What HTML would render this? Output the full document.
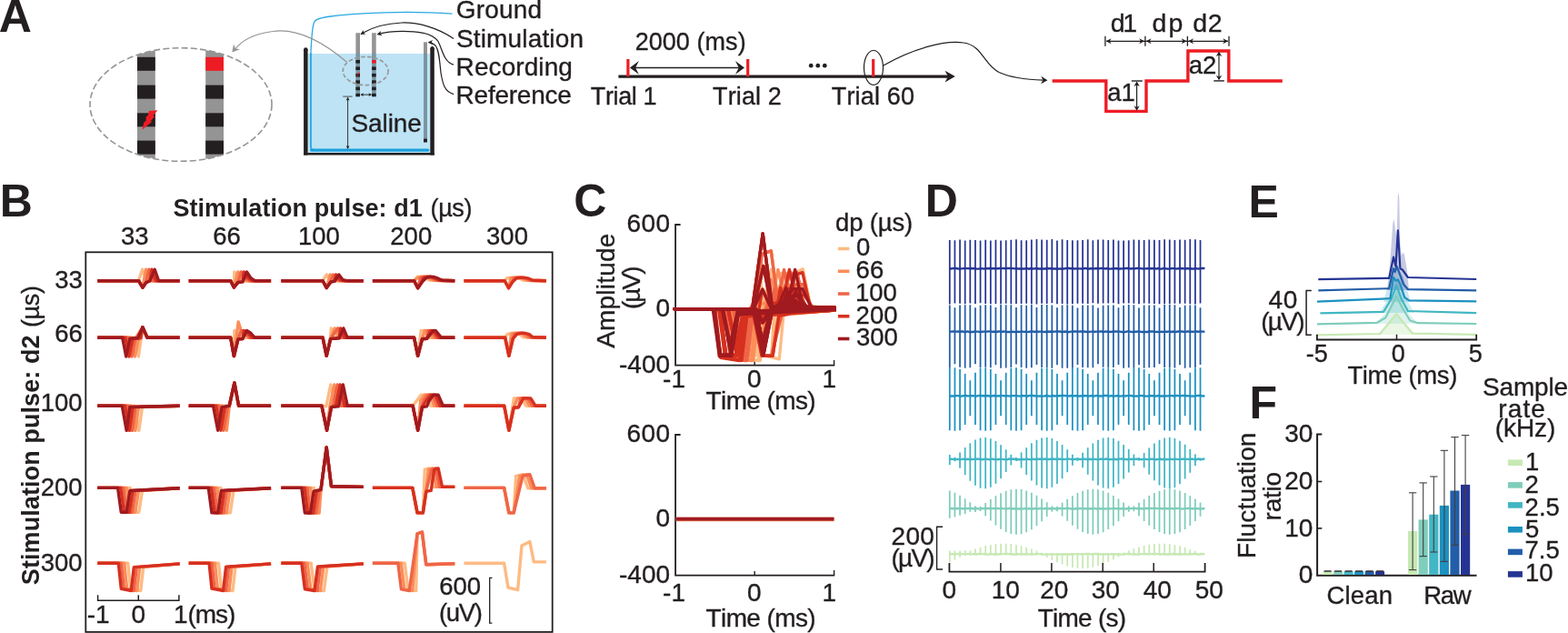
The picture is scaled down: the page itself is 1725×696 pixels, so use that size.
<!DOCTYPE html>
<html><head><meta charset="utf-8"><title>Figure</title>
<style>
html,body{margin:0;padding:0;background:#fff;}
svg{display:block;}
text{font-family:"Liberation Sans",Arial,Helvetica,sans-serif;font-kerning:none;}
</style></head>
<body>
<svg width="1725" height="696" viewBox="0 0 1725 696">
<rect x="0" y="0" width="1725" height="696" fill="#fff"/>
<text x="-1.25" y="34.50" font-size="50.00" font-weight="bold" fill="#231f20">A</text>
<defs><clipPath id="bigell"><ellipse cx="199" cy="115" rx="100" ry="62.3"/></clipPath><clipPath id="smell"><ellipse cx="402.2" cy="78" rx="25" ry="15.6"/></clipPath></defs>
<g clip-path="url(#bigell)">
<rect x="151.00" y="40.00" width="19.80" height="150.00" fill="#949494"/>
<rect x="151.00" y="62.80" width="19.80" height="15.00" fill="#231f20"/>
<rect x="151.00" y="93.60" width="19.80" height="15.00" fill="#231f20"/>
<rect x="151.00" y="124.30" width="19.80" height="15.00" fill="#231f20"/>
<rect x="151.00" y="154.60" width="19.80" height="15.00" fill="#231f20"/>
<rect x="226.20" y="40.00" width="19.80" height="150.00" fill="#949494"/>
<rect x="226.20" y="62.80" width="19.80" height="15.00" fill="#ed1c24"/>
<rect x="226.20" y="93.60" width="19.80" height="15.00" fill="#231f20"/>
<rect x="226.20" y="124.30" width="19.80" height="15.00" fill="#231f20"/>
<rect x="226.20" y="154.60" width="19.80" height="15.00" fill="#231f20"/>
</g>
<ellipse cx="199" cy="115" rx="100" ry="62.3" fill="none" stroke="#949494" stroke-width="1.6" stroke-dasharray="7 3.2"/>
<path d="M163.8,121.9 L173.4,121.2 L168.3,127.4 L170.3,128.0 L165.7,133.2 L167.4,133.8 L156.2,142.7 L158.6,133.9 L160.4,133.2 L160.9,127.8 L162.7,127.2 Z" fill="#ed1c24"/>
<rect x="338.50" y="59.00" width="135.20" height="109.20" fill="#bde3f5"/>
<path d="M497.5,15.2 C450,11.5 390,14 360,18.5 C352,19.7 347,21 345.6,24.5 C344.6,27 342.6,42 341.9,60" stroke="#29a9e0" stroke-width="1.3" fill="none"/>
<path d="M341.9,59 L341.9,161 Q341.9,165.1 346,165.1" stroke="#29a9e0" stroke-width="1.9" fill="none" stroke-linecap="round"/>
<line x1="342.50" y1="165.10" x2="470.80" y2="165.10" stroke="#1fa0dc" stroke-width="3.2" stroke-linecap="round"/>
<rect x="334.10" y="54.40" width="4.50" height="116.10" fill="#231f20"/>
<rect x="473.30" y="53.20" width="4.50" height="117.30" fill="#231f20"/>
<circle cx="336.35" cy="54.4" r="2.25" fill="#231f20"/>
<circle cx="475.55" cy="53.2" r="2.25" fill="#231f20"/>
<rect x="334.10" y="168.00" width="143.70" height="2.50" fill="#231f20"/>
<rect x="391.40" y="36.20" width="4.60" height="23.00" fill="#949494"/>
<rect x="391.40" y="59.00" width="4.60" height="47.20" fill="#7a95a3"/>
<rect x="391.40" y="66.00" width="4.60" height="3.60" fill="#231f20"/>
<rect x="391.40" y="73.40" width="4.60" height="3.60" fill="#231f20"/>
<rect x="391.40" y="80.90" width="4.60" height="3.60" fill="#231f20"/>
<rect x="391.40" y="88.30" width="4.60" height="3.60" fill="#231f20"/>
<rect x="391.40" y="95.60" width="4.60" height="3.60" fill="#231f20"/>
<rect x="391.40" y="102.80" width="4.60" height="3.40" fill="#231f20"/>
<rect x="409.10" y="36.20" width="4.60" height="23.00" fill="#949494"/>
<rect x="409.10" y="59.00" width="4.60" height="47.20" fill="#7a95a3"/>
<rect x="409.10" y="66.00" width="4.60" height="3.60" fill="#ed1c24"/>
<rect x="409.10" y="73.40" width="4.60" height="3.60" fill="#231f20"/>
<rect x="409.10" y="80.90" width="4.60" height="3.60" fill="#231f20"/>
<rect x="409.10" y="88.30" width="4.60" height="3.60" fill="#231f20"/>
<rect x="409.10" y="95.60" width="4.60" height="3.60" fill="#231f20"/>
<rect x="409.10" y="102.80" width="4.60" height="3.40" fill="#231f20"/>
<path d="M396.2,79.8 L394.2,80.0 L391.6,84.9 Z" fill="#ed1c24"/>
<rect x="466.00" y="46.30" width="4.00" height="13.00" fill="#949494"/>
<rect x="466.00" y="59.00" width="4.00" height="94.00" fill="#7a95a3"/>
<rect x="466.00" y="152.60" width="4.00" height="3.90" fill="#231f20"/>
<path d="M381.5,68.2 C360,50 330,30 300,34.5 C280,37 265,45 257.5,55.5" stroke="#949494" stroke-width="1.2" fill="none"/>
<path d="M255.30,57.60 L257.00,48.58 L258.90,53.31 L263.89,54.36 Z" fill="#949494"/>
<ellipse cx="402.2" cy="78" rx="24.9" ry="15.6" fill="none" stroke="#9a9a9a" stroke-width="1.7" stroke-dasharray="4.6 2.4"/>
<line x1="397.50" y1="104.10" x2="408.00" y2="104.10" stroke="#231f20" stroke-width="0.9"/>
<path d="M396.40,104.10 L399.90,102.30 L399.20,104.10 L399.90,105.90 Z" fill="#231f20"/>
<path d="M409.00,104.10 L405.50,105.90 L406.20,104.10 L405.50,102.30 Z" fill="#231f20"/>
<line x1="377.30" y1="106.10" x2="387.60" y2="106.10" stroke="#6d6e71" stroke-width="1.3"/>
<line x1="382.60" y1="108.00" x2="382.60" y2="162.50" stroke="#231f20" stroke-width="0.9"/>
<path d="M382.60,106.60 L384.50,110.40 L382.60,109.64 L380.70,110.40 Z" fill="#231f20"/>
<path d="M382.60,164.00 L380.70,160.20 L382.60,160.96 L384.50,160.20 Z" fill="#231f20"/>
<text x="386.43" y="144.80" font-size="28.00" letter-spacing="-0.064" fill="#231f20" stroke="#231f20" stroke-width="0.35">Saline</text>
<text x="501.79" y="20.20" font-size="28.00" letter-spacing="0.164" fill="#231f20" stroke="#231f20" stroke-width="0.35">Ground</text>
<text x="501.93" y="51.50" font-size="28.00" letter-spacing="0.158" fill="#231f20" stroke="#231f20" stroke-width="0.35">Stimulation</text>
<text x="501.60" y="82.70" font-size="28.00" letter-spacing="0.084" fill="#231f20" stroke="#231f20" stroke-width="0.35">Recording</text>
<text x="501.60" y="113.80" font-size="28.00" letter-spacing="-0.243" fill="#231f20" stroke="#231f20" stroke-width="0.35">Reference</text>
<path d="M499.1,42.6 C482,30.5 460,24.5 442,25.0 C423,25.8 407,31.5 398.5,36.6" stroke="#231f20" stroke-width="1.2" fill="none"/>
<path d="M396.30,38.00 L399.71,32.91 L399.87,35.94 L402.41,37.59 Z" fill="#231f20"/>
<path d="M499.1,71.2 C488,68 487,55 482,45.5 C478,39.5 470,35.8 455,34.8 C440,34 425,35 416.6,37.4" stroke="#231f20" stroke-width="1.2" fill="none"/>
<path d="M414.40,38.00 L419.01,33.97 L418.38,36.93 L420.41,39.18 Z" fill="#231f20"/>
<path d="M499.1,103.6 C489,101 487,92 485,80 C483.5,66 483,55 479,50 C477,48 475,47 472.5,46.8" stroke="#231f20" stroke-width="1.2" fill="none"/>
<path d="M470.60,46.60 L476.10,43.90 L474.73,46.60 L476.10,49.30 Z" fill="#231f20"/>
<text x="698.64" y="54.80" font-size="27.00" letter-spacing="0.062" fill="#231f20" stroke="#231f20" stroke-width="0.35">2000 (ms)</text>
<line x1="697.00" y1="74.40" x2="815.00" y2="74.40" stroke="#231f20" stroke-width="1.5"/>
<path d="M692.90,74.40 L702.90,67.00 L699.10,74.40 L702.90,81.80 Z" fill="#231f20"/>
<path d="M819.00,74.40 L809.00,81.80 L812.80,74.40 L809.00,67.00 Z" fill="#231f20"/>
<line x1="680.40" y1="84.10" x2="1044.00" y2="84.10" stroke="#231f20" stroke-width="3.3"/>
<path d="M1050.80,84.10 L1039.60,90.40 L1042.96,84.10 L1039.60,77.80 Z" fill="#231f20"/>
<line x1="690.90" y1="65.00" x2="690.90" y2="84.20" stroke="#ed1c24" stroke-width="3.2"/>
<line x1="822.70" y1="65.00" x2="822.70" y2="84.20" stroke="#ed1c24" stroke-width="3.2"/>
<line x1="960.70" y1="65.00" x2="960.70" y2="84.20" stroke="#ed1c24" stroke-width="3.2"/>
<circle cx="892.2" cy="72.2" r="2.35" fill="#231f20"/>
<circle cx="899.8" cy="72.2" r="2.35" fill="#231f20"/>
<circle cx="907.3" cy="72.2" r="2.35" fill="#231f20"/>
<ellipse cx="961" cy="74.4" rx="10.5" ry="18.9" fill="none" stroke="#231f20" stroke-width="1.2"/>
<text x="649.79" y="114.70" font-size="27.00" letter-spacing="-0.365" fill="#231f20" stroke="#231f20" stroke-width="0.35">Trial 1</text>
<text x="784.09" y="114.70" font-size="27.00" letter-spacing="0.108" fill="#231f20" stroke="#231f20" stroke-width="0.35">Trial 2</text>
<text x="914.79" y="114.80" font-size="27.00" letter-spacing="0.161" fill="#231f20" stroke="#231f20" stroke-width="0.35">Trial 60</text>
<path d="M971.9,71.9 C1003,54 1038,44 1060,47 C1081,50 1082,71 1099,79.5 C1114,86.3 1135,87.8 1147.5,88.1" stroke="#231f20" stroke-width="1.2" fill="none"/>
<path d="M1152.50,88.30 L1145.06,92.24 L1147.39,88.12 L1145.35,83.85 Z" fill="#231f20"/>
<polyline points="1157.6,89.0 1216.8,89.0 1216.8,122.4 1261.0,122.4 1261.0,89.0 1306.9,89.0 1306.9,56.0 1351.8,56.0 1351.8,89.0 1410.8,89.0" stroke="#ed1c24" stroke-width="3.4" fill="none" stroke-linejoin="miter"/>
<g>
<line x1="1217.00" y1="45.30" x2="1351.00" y2="45.30" stroke="#231f20" stroke-width="1.2"/>
<line x1="1215.90" y1="39.80" x2="1215.90" y2="50.70" stroke="#231f20" stroke-width="1.3"/>
<line x1="1259.90" y1="39.80" x2="1259.90" y2="50.70" stroke="#231f20" stroke-width="1.3"/>
<line x1="1306.40" y1="39.80" x2="1306.40" y2="50.70" stroke="#231f20" stroke-width="1.3"/>
<line x1="1352.00" y1="39.80" x2="1352.00" y2="50.70" stroke="#231f20" stroke-width="1.3"/>
<path d="M1216.60,45.30 L1222.60,42.30 L1220.80,45.30 L1222.60,48.30 Z" fill="#231f20"/>
<path d="M1259.20,45.30 L1253.20,48.30 L1255.00,45.30 L1253.20,42.30 Z" fill="#231f20"/>
<path d="M1260.60,45.30 L1266.60,42.30 L1264.80,45.30 L1266.60,48.30 Z" fill="#231f20"/>
<path d="M1305.70,45.30 L1299.70,48.30 L1301.50,45.30 L1299.70,42.30 Z" fill="#231f20"/>
<path d="M1307.10,45.30 L1313.10,42.30 L1311.30,45.30 L1313.10,48.30 Z" fill="#231f20"/>
<path d="M1351.30,45.30 L1345.30,48.30 L1347.10,45.30 L1345.30,42.30 Z" fill="#231f20"/>
</g>
<text x="1221.80" y="35.20" font-size="28.50" letter-spacing="-2.312" fill="#231f20" stroke="#231f20" stroke-width="0.35">d1</text>
<text x="1267.40" y="35.20" font-size="28.50" letter-spacing="2.193" fill="#231f20" stroke="#231f20" stroke-width="0.35">dp</text>
<text x="1312.30" y="35.20" font-size="28.50" letter-spacing="0.529" fill="#231f20" stroke="#231f20" stroke-width="0.35">d2</text>
<text x="1218.33" y="111.10" font-size="27.50" fill="#231f20" stroke="#231f20" stroke-width="0.35">a1</text>
<text x="1307.83" y="81.40" font-size="27.50" fill="#231f20" stroke="#231f20" stroke-width="0.35">a2</text>
<line x1="1244.80" y1="89.00" x2="1256.80" y2="89.00" stroke="#231f20" stroke-width="1.4"/>
<line x1="1250.60" y1="91.00" x2="1250.60" y2="120.00" stroke="#231f20" stroke-width="1.2"/>
<path d="M1250.60,89.60 L1253.80,95.10 L1250.60,93.45 L1247.40,95.10 Z" fill="#231f20"/>
<path d="M1250.60,121.80 L1247.40,116.30 L1250.60,117.95 L1253.80,116.30 Z" fill="#231f20"/>
<line x1="1335.30" y1="88.90" x2="1346.80" y2="88.90" stroke="#231f20" stroke-width="1.4"/>
<line x1="1341.00" y1="59.00" x2="1341.00" y2="87.00" stroke="#231f20" stroke-width="1.2"/>
<path d="M1341.00,56.60 L1344.20,62.10 L1341.00,60.45 L1337.80,62.10 Z" fill="#231f20"/>
<path d="M1341.00,88.30 L1337.80,82.80 L1341.00,84.45 L1344.20,82.80 Z" fill="#231f20"/>
<text x="-0.34" y="238.10" font-size="50.00" font-weight="bold" fill="#231f20">B</text>
<text x="190.42" y="238.10" font-size="27.00" font-weight="bold" letter-spacing="0.066" fill="#231f20">Stimulation pulse: d1</text>
<text x="473.53" y="238.10" font-size="27.00" letter-spacing="-0.363" fill="#231f20" stroke="#231f20" stroke-width="0.35">(µs)</text>
<text x="132.89" y="268.90" font-size="27.50" fill="#231f20" stroke="#231f20" stroke-width="0.35">33</text>
<text x="234.31" y="268.90" font-size="27.50" fill="#231f20" stroke="#231f20" stroke-width="0.35">66</text>
<text x="327.95" y="268.90" font-size="27.50" fill="#231f20" stroke="#231f20" stroke-width="0.35">100</text>
<text x="429.30" y="268.90" font-size="27.50" fill="#231f20" stroke="#231f20" stroke-width="0.35">200</text>
<text x="535.07" y="268.90" font-size="27.50" fill="#231f20" stroke="#231f20" stroke-width="0.35">300</text>
<text x="60.22" y="316.50" font-size="27.50" fill="#231f20" stroke="#231f20" stroke-width="0.35">33</text>
<text x="60.22" y="375.60" font-size="27.50" fill="#231f20" stroke="#231f20" stroke-width="0.35">66</text>
<text x="44.79" y="452.30" font-size="27.50" fill="#231f20" stroke="#231f20" stroke-width="0.35">100</text>
<text x="44.79" y="545.00" font-size="27.50" fill="#231f20" stroke="#231f20" stroke-width="0.35">200</text>
<text x="44.79" y="628.20" font-size="27.50" fill="#231f20" stroke="#231f20" stroke-width="0.35">300</text>
<g transform="translate(42.5,642.4) rotate(-90)">
<text x="-0.78" y="0.00" font-size="27.00" font-weight="bold" letter-spacing="0.082" fill="#231f20">Stimulation pulse: d2</text>
<text x="282.33" y="0.00" font-size="27.00" letter-spacing="-0.363" fill="#231f20" stroke="#231f20" stroke-width="0.35">(µs)</text>
</g>
<rect x="94.3" y="277.3" width="513.4" height="417.6" fill="none" stroke="#231f20" stroke-width="1.8"/>
<g fill="none" stroke-width="3.4" stroke-linejoin="round" stroke-linecap="butt">
<polyline points="107.30,308.70 152.50,308.70 156.60,296.20 161.00,308.70 197.70,308.70" stroke="#fdbb84"/>
<polyline points="107.30,308.70 152.50,308.70 156.90,316.20 160.60,296.20 165.00,308.70 197.70,308.70" stroke="#fc8d59"/>
<polyline points="107.30,308.70 152.50,308.70 156.90,316.20 160.60,310.70 164.00,296.20 168.40,308.70 197.70,308.70" stroke="#ef6548"/>
<polyline points="107.30,308.70 152.50,308.70 156.90,316.20 160.60,310.70 165.00,308.70 167.00,296.20 171.40,308.70 197.70,308.70" stroke="#d7301f"/>
<polyline points="107.30,308.70 152.50,308.70 156.90,316.20 160.60,310.70 165.00,308.70 170.20,296.20 174.60,308.70 197.70,308.70" stroke="#a01a1f"/>
</g>
<g fill="none" stroke-width="3.4" stroke-linejoin="round" stroke-linecap="butt">
<polyline points="207.70,308.70 253.70,308.70 257.40,316.00 257.90,299.00 262.30,305.70 266.70,308.70 298.10,308.70" stroke="#fdbb84"/>
<polyline points="207.70,308.70 253.70,308.70 257.40,316.00 261.90,299.00 266.30,305.70 270.70,308.70 298.10,308.70" stroke="#fc8d59"/>
<polyline points="207.70,308.70 253.70,308.70 257.40,316.00 261.90,310.40 265.30,299.00 269.70,305.70 274.10,308.70 298.10,308.70" stroke="#ef6548"/>
<polyline points="207.70,308.70 253.70,308.70 257.40,316.00 261.90,310.40 267.00,309.90 268.30,299.00 272.70,305.70 277.10,308.70 298.10,308.70" stroke="#d7301f"/>
<polyline points="207.70,308.70 253.70,308.70 257.40,316.00 261.90,310.40 267.00,309.90 271.50,299.00 275.90,305.70 280.30,308.70 298.10,308.70" stroke="#a01a1f"/>
</g>
<g fill="none" stroke-width="3.4" stroke-linejoin="round" stroke-linecap="butt">
<polyline points="309.40,308.70 355.10,308.70 359.20,302.00 363.60,307.70 368.00,308.70 399.80,308.70" stroke="#fdbb84"/>
<polyline points="309.40,308.70 355.10,308.70 359.20,316.50 363.20,302.00 367.60,307.70 372.00,308.70 399.80,308.70" stroke="#fc8d59"/>
<polyline points="309.40,308.70 355.10,308.70 359.20,316.50 363.60,310.20 366.60,302.00 371.00,307.70 375.40,308.70 399.80,308.70" stroke="#ef6548"/>
<polyline points="309.40,308.70 355.10,308.70 359.20,316.50 363.60,310.20 368.10,309.20 369.60,302.00 374.00,307.70 378.40,308.70 399.80,308.70" stroke="#d7301f"/>
<polyline points="309.40,308.70 355.10,308.70 359.20,316.50 363.60,310.20 368.10,309.20 372.80,302.00 377.20,307.70 381.60,308.70 399.80,308.70" stroke="#a01a1f"/>
</g>
<g fill="none" stroke-width="3.4" stroke-linejoin="round" stroke-linecap="butt">
<polyline points="409.90,308.70 455.60,308.70 459.50,304.20 464.00,304.50 468.50,306.20 473.00,308.20 500.30,308.70" stroke="#fdbb84"/>
<polyline points="409.90,308.70 455.60,308.70 459.00,305.70 463.50,304.20 468.00,304.50 472.50,306.20 477.00,308.20 500.30,308.70" stroke="#fc8d59"/>
<polyline points="409.90,308.70 455.60,308.70 459.70,316.70 462.40,305.70 466.90,304.20 471.40,304.50 475.90,306.20 480.40,308.20 500.30,308.70" stroke="#ef6548"/>
<polyline points="409.90,308.70 455.60,308.70 459.70,316.70 464.10,310.20 465.40,305.70 469.90,304.20 474.40,304.50 478.90,306.20 483.40,308.20 500.30,308.70" stroke="#d7301f"/>
<polyline points="409.90,308.70 455.60,308.70 459.70,316.70 464.10,310.20 468.60,305.70 473.10,304.20 477.60,304.50 482.10,306.20 486.60,308.20 500.30,308.70" stroke="#a01a1f"/>
</g>
<g fill="none" stroke-width="3.4" stroke-linejoin="round" stroke-linecap="butt">
<polyline points="510.50,308.70 555.20,308.70 558.00,305.70 562.50,305.30 566.90,305.30 571.30,306.20 575.80,308.20 600.90,308.70" stroke="#fdbb84"/>
<polyline points="510.50,308.70 555.20,308.70 559.60,316.70 562.00,305.70 566.50,305.30 570.90,305.30 575.30,306.20 579.80,308.20 600.90,308.70" stroke="#fc8d59"/>
<polyline points="510.50,308.70 555.20,308.70 559.60,316.70 564.00,309.70 565.40,305.70 569.90,305.30 574.30,305.30 578.70,306.20 583.20,308.20 600.90,308.70" stroke="#ef6548"/>
<polyline points="510.50,308.70 555.20,308.70 559.60,316.70 564.00,309.70 568.40,305.70 572.90,305.30 577.30,305.30 581.70,306.20 586.20,308.20 600.90,308.70" stroke="#d7301f"/>
</g>
<g fill="none" stroke-width="3.4" stroke-linejoin="round" stroke-linecap="butt">
<polyline points="107.30,371.30 148.30,371.30 152.30,392.00 156.90,359.80 162.00,371.30 197.70,371.30" stroke="#fdbb84"/>
<polyline points="107.30,371.30 144.30,371.30 148.30,392.00 152.50,372.30 156.90,359.80 162.00,371.30 197.70,371.30" stroke="#fc8d59"/>
<polyline points="107.30,371.30 140.90,371.30 144.90,392.00 149.10,372.30 156.90,359.80 162.00,371.30 197.70,371.30" stroke="#ef6548"/>
<polyline points="107.30,371.30 137.90,371.30 141.90,392.00 146.10,372.30 154.90,371.80 156.90,359.80 162.00,371.30 197.70,371.30" stroke="#d7301f"/>
<polyline points="107.30,371.30 134.70,371.30 138.70,392.00 142.90,372.30 151.70,371.80 156.90,359.80 162.00,371.30 197.70,371.30" stroke="#a01a1f"/>
</g>
<g fill="none" stroke-width="3.4" stroke-linejoin="round" stroke-linecap="butt">
<polyline points="207.70,371.30 253.70,371.30 257.40,391.60 257.90,363.50 262.30,366.30 266.70,371.30 298.10,371.30" stroke="#fdbb84"/>
<polyline points="207.70,371.30 253.70,371.30 257.40,391.60 262.20,353.90 265.90,365.30 269.90,368.30 275.90,371.30 298.10,371.30" stroke="#fc8d59"/>
<polyline points="207.70,371.30 253.70,371.30 257.40,391.60 261.90,373.00 265.30,363.50 269.70,366.30 274.10,371.30 298.10,371.30" stroke="#ef6548"/>
<polyline points="207.70,371.30 253.70,371.30 257.40,391.60 261.90,373.00 267.00,372.50 268.30,363.50 272.70,366.30 277.10,371.30 298.10,371.30" stroke="#d7301f"/>
<polyline points="207.70,371.30 253.70,371.30 257.40,391.60 261.90,373.00 267.00,372.50 271.50,363.50 275.90,366.30 280.30,371.30 298.10,371.30" stroke="#a01a1f"/>
</g>
<g fill="none" stroke-width="3.4" stroke-linejoin="round" stroke-linecap="butt">
<polyline points="309.40,371.30 355.10,371.30 359.20,391.30 363.60,372.60 364.20,360.90 368.60,371.30 399.80,371.30" stroke="#fdbb84"/>
<polyline points="309.40,371.30 355.10,371.30 359.20,391.30 363.60,372.60 368.20,360.90 372.60,371.30 399.80,371.30" stroke="#fc8d59"/>
<polyline points="309.40,371.30 355.10,371.30 359.20,391.30 363.60,372.60 371.60,360.90 376.00,371.30 399.80,371.30" stroke="#ef6548"/>
<polyline points="309.40,371.30 355.10,371.30 359.20,391.30 363.60,372.60 373.20,371.80 374.60,360.90 379.00,371.30 399.80,371.30" stroke="#d7301f"/>
<polyline points="309.40,371.30 355.10,371.30 359.20,391.30 363.60,372.60 373.20,371.80 377.80,360.90 382.20,371.30 399.80,371.30" stroke="#a01a1f"/>
</g>
<g fill="none" stroke-width="3.4" stroke-linejoin="round" stroke-linecap="butt">
<polyline points="409.90,371.30 455.60,371.30 459.70,391.30 463.20,363.40 465.90,363.70 472.00,371.30 500.30,371.30" stroke="#fdbb84"/>
<polyline points="409.90,371.30 455.60,371.30 459.70,391.30 464.40,372.80 467.20,363.40 469.90,363.70 476.00,371.30 500.30,371.30" stroke="#fc8d59"/>
<polyline points="409.90,371.30 455.60,371.30 459.70,391.30 464.40,372.80 469.70,372.30 470.60,363.40 473.30,363.70 479.40,371.30 500.30,371.30" stroke="#ef6548"/>
<polyline points="409.90,371.30 455.60,371.30 459.70,391.30 464.40,372.80 469.70,372.30 473.60,363.40 476.30,363.70 482.40,371.30 500.30,371.30" stroke="#d7301f"/>
<polyline points="409.90,371.30 455.60,371.30 459.70,391.30 464.40,372.80 469.70,372.30 476.80,363.40 479.50,363.70 485.60,371.30 500.30,371.30" stroke="#a01a1f"/>
</g>
<g fill="none" stroke-width="3.4" stroke-linejoin="round" stroke-linecap="butt">
<polyline points="510.50,371.30 555.70,371.30 558.30,367.30 562.70,366.30 567.10,366.30 571.50,367.30 575.90,370.80 600.90,371.30" stroke="#fdbb84"/>
<polyline points="510.50,371.30 555.70,371.30 559.90,391.30 562.30,367.30 566.70,366.30 571.10,366.30 575.50,367.30 579.90,370.80 600.90,371.30" stroke="#fc8d59"/>
<polyline points="510.50,371.30 555.70,371.30 559.90,391.30 564.30,372.30 565.70,367.30 570.10,366.30 574.50,366.30 578.90,367.30 583.30,370.80 600.90,371.30" stroke="#ef6548"/>
<polyline points="510.50,371.30 555.70,371.30 559.90,391.30 564.30,372.30 568.70,367.30 573.10,366.30 577.50,366.30 581.90,367.30 586.30,370.80 600.90,371.30" stroke="#d7301f"/>
</g>
<g fill="none" stroke-width="3.4" stroke-linejoin="round" stroke-linecap="butt">
<polyline points="107.30,446.20 147.90,446.20 152.80,473.40 156.50,447.50 197.70,446.20" stroke="#fdbb84"/>
<polyline points="107.30,446.20 143.90,446.20 148.80,473.40 152.50,447.50 197.70,446.20" stroke="#fc8d59"/>
<polyline points="107.30,446.20 140.50,446.20 145.40,473.40 149.10,447.50 197.70,446.20" stroke="#ef6548"/>
<polyline points="107.30,446.20 137.50,446.20 142.40,473.40 146.10,447.50 197.70,446.20" stroke="#d7301f"/>
<polyline points="107.30,446.20 134.30,446.20 139.20,473.40 142.90,447.50 197.70,446.20" stroke="#a01a1f"/>
</g>
<g fill="none" stroke-width="3.4" stroke-linejoin="round" stroke-linecap="butt">
<polyline points="207.70,446.20 248.10,446.20 252.30,446.20 257.90,420.90 262.60,446.20 298.10,446.20" stroke="#fdbb84"/>
<polyline points="207.70,446.20 244.10,446.20 249.30,473.20 252.30,446.20 257.90,420.90 262.60,446.20 298.10,446.20" stroke="#fc8d59"/>
<polyline points="207.70,446.20 240.70,446.20 245.90,473.20 250.30,447.70 252.30,446.20 257.90,420.90 262.60,446.20 298.10,446.20" stroke="#ef6548"/>
<polyline points="207.70,446.20 237.70,446.20 242.90,473.20 247.30,447.70 252.30,446.20 257.90,420.90 262.60,446.20 298.10,446.20" stroke="#d7301f"/>
<polyline points="207.70,446.20 234.50,446.20 239.70,473.20 244.10,447.70 252.30,446.20 257.90,420.90 262.60,446.20 298.10,446.20" stroke="#a01a1f"/>
</g>
<g fill="none" stroke-width="3.4" stroke-linejoin="round" stroke-linecap="butt">
<polyline points="309.40,446.20 353.90,446.20 358.90,446.70 363.80,423.00 368.60,446.20 399.80,446.20" stroke="#fdbb84"/>
<polyline points="309.40,446.20 353.90,446.20 359.60,473.20 362.90,446.70 367.80,423.00 372.60,446.20 399.80,446.20" stroke="#fc8d59"/>
<polyline points="309.40,446.20 353.90,446.20 359.60,473.20 364.50,447.60 366.30,446.70 371.20,423.00 376.00,446.20 399.80,446.20" stroke="#ef6548"/>
<polyline points="309.40,446.20 353.90,446.20 359.60,473.20 364.50,447.60 369.30,446.70 374.20,423.00 379.00,446.20 399.80,446.20" stroke="#d7301f"/>
<polyline points="309.40,446.20 353.90,446.20 359.60,473.20 364.50,447.60 372.50,446.70 377.40,423.00 382.20,446.20 399.80,446.20" stroke="#a01a1f"/>
</g>
<g fill="none" stroke-width="3.4" stroke-linejoin="round" stroke-linecap="butt">
<polyline points="409.90,446.20 454.10,446.20 458.70,440.20 463.20,434.30 468.50,434.30 473.80,446.20 500.30,446.20" stroke="#fdbb84"/>
<polyline points="409.90,446.20 454.10,446.20 459.70,473.20 462.70,440.20 467.20,434.30 472.50,434.30 477.80,446.20 500.30,446.20" stroke="#fc8d59"/>
<polyline points="409.90,446.20 454.10,446.20 459.70,473.20 464.40,447.60 466.10,440.20 470.60,434.30 475.90,434.30 481.20,446.20 500.30,446.20" stroke="#ef6548"/>
<polyline points="409.90,446.20 454.10,446.20 459.70,473.20 464.40,447.60 469.10,440.20 473.60,434.30 478.90,434.30 484.20,446.20 500.30,446.20" stroke="#d7301f"/>
<polyline points="409.90,446.20 454.10,446.20 459.70,473.20 464.40,447.60 469.70,446.70 472.30,440.20 476.80,434.30 482.10,434.30 487.40,446.20 500.30,446.20" stroke="#a01a1f"/>
</g>
<g fill="none" stroke-width="3.4" stroke-linejoin="round" stroke-linecap="butt">
<polyline points="510.50,446.20 554.70,446.20 559.90,473.20 565.40,437.90 573.40,437.90 578.60,446.20 600.90,446.20" stroke="#fdbb84"/>
<polyline points="510.50,446.20 554.70,446.20 559.90,473.20 565.20,448.20 569.40,437.90 577.40,437.90 582.60,446.20 600.90,446.20" stroke="#fc8d59"/>
<polyline points="510.50,446.20 554.70,446.20 559.90,473.20 565.20,448.20 570.50,447.70 572.80,437.90 580.80,437.90 586.00,446.20 600.90,446.20" stroke="#ef6548"/>
<polyline points="510.50,446.20 554.70,446.20 559.90,473.20 565.20,448.20 570.50,447.70 575.80,437.90 583.80,437.90 589.00,446.20 600.90,446.20" stroke="#d7301f"/>
</g>
<g fill="none" stroke-width="3.4" stroke-linejoin="round" stroke-linecap="butt">
<polyline points="107.30,536.40 143.20,536.40 146.90,563.20 152.80,563.20 156.50,539.50 197.70,536.70" stroke="#fdbb84"/>
<polyline points="107.30,536.40 139.20,536.40 142.90,563.20 148.80,563.20 152.50,539.50 197.70,536.70" stroke="#fc8d59"/>
<polyline points="107.30,536.40 135.80,536.40 139.50,563.20 145.40,563.20 149.10,539.50 197.70,536.70" stroke="#ef6548"/>
<polyline points="107.30,536.40 132.80,536.40 136.50,563.20 142.40,563.20 146.10,539.50 197.70,536.70" stroke="#d7301f"/>
<polyline points="107.30,536.40 129.60,536.40 133.30,563.20 139.20,563.20 142.90,539.50 197.70,536.70" stroke="#a01a1f"/>
</g>
<g fill="none" stroke-width="3.4" stroke-linejoin="round" stroke-linecap="butt">
<polyline points="207.70,536.40 242.90,536.40 246.60,563.90 253.30,563.90 257.00,539.40 298.10,536.70" stroke="#fdbb84"/>
<polyline points="207.70,536.40 238.90,536.40 242.60,563.90 249.30,563.90 253.00,539.40 298.10,536.70" stroke="#fc8d59"/>
<polyline points="207.70,536.40 235.50,536.40 239.20,563.90 245.90,563.90 249.60,539.40 298.10,536.70" stroke="#ef6548"/>
<polyline points="207.70,536.40 232.50,536.40 236.20,563.90 242.90,563.90 246.60,539.40 298.10,536.70" stroke="#d7301f"/>
<polyline points="207.70,536.40 229.30,536.40 233.00,563.90 239.70,563.90 243.40,539.40 298.10,536.70" stroke="#a01a1f"/>
</g>
<g fill="none" stroke-width="3.4" stroke-linejoin="round" stroke-linecap="butt">
<polyline points="309.40,536.40 345.40,536.40 349.00,564.00 353.00,538.40 359.20,492.00 364.50,534.80 399.80,535.40" stroke="#fdbb84"/>
<polyline points="309.40,536.40 341.40,536.40 345.00,564.00 351.10,564.00 353.00,538.40 359.20,492.00 364.50,534.80 399.80,535.40" stroke="#fc8d59"/>
<polyline points="309.40,536.40 338.00,536.40 341.60,564.00 347.70,564.00 351.30,540.10 353.00,538.40 359.20,492.00 364.50,534.80 399.80,535.40" stroke="#ef6548"/>
<polyline points="309.40,536.40 335.00,536.40 338.60,564.00 344.70,564.00 348.30,540.10 353.00,538.40 359.20,492.00 364.50,534.80 399.80,535.40" stroke="#d7301f"/>
<polyline points="309.40,536.40 331.80,536.40 335.40,564.00 341.50,564.00 345.10,540.10 353.00,538.40 359.20,492.00 364.50,534.80 399.80,535.40" stroke="#a01a1f"/>
</g>
<g fill="none" stroke-width="3.4" stroke-linejoin="round" stroke-linecap="butt">
<polyline points="409.90,536.40 453.80,536.40 459.10,563.90 465.30,563.90 467.30,516.40 471.70,514.90 476.10,535.40 500.30,535.40" stroke="#fdbb84"/>
<polyline points="409.90,536.40 453.80,536.40 459.10,563.90 465.30,563.90 468.80,540.40 471.30,516.40 475.70,514.90 480.10,535.40 500.30,535.40" stroke="#fc8d59"/>
<polyline points="409.90,536.40 453.80,536.40 459.10,563.90 465.30,563.90 468.80,540.40 474.70,516.40 479.10,514.90 483.50,535.40 500.30,535.40" stroke="#ef6548"/>
<polyline points="409.90,536.40 453.80,536.40 459.10,563.90 465.30,563.90 468.80,540.40 474.20,539.40 477.70,516.40 482.10,514.90 486.50,535.40 500.30,535.40" stroke="#d7301f"/>
</g>
<g fill="none" stroke-width="3.4" stroke-linejoin="round" stroke-linecap="butt">
<polyline points="510.50,536.40 554.60,536.40 559.90,563.90 565.20,563.90 567.60,523.40 575.50,521.70 580.80,536.90 600.90,536.90" stroke="#fdbb84"/>
<polyline points="510.50,536.40 554.60,536.40 559.90,563.90 565.20,563.90 571.60,523.40 579.50,521.70 584.80,536.90 600.90,536.90" stroke="#fc8d59"/>
<polyline points="510.50,536.40 554.60,536.40 559.90,563.90 565.20,563.90 575.00,523.40 582.90,521.70 588.20,536.90 600.90,536.90" stroke="#ef6548"/>
</g>
<g fill="none" stroke-width="3.4" stroke-linejoin="round" stroke-linecap="butt">
<polyline points="107.30,619.20 140.70,619.20 143.70,647.30 154.70,649.50 157.70,623.60 197.70,619.90" stroke="#fdbb84"/>
<polyline points="107.30,619.20 136.70,619.20 139.70,647.30 150.70,649.50 153.70,623.60 197.70,619.90" stroke="#fc8d59"/>
<polyline points="107.30,619.20 133.30,619.20 136.30,647.30 147.30,649.50 150.30,623.60 197.70,619.90" stroke="#ef6548"/>
<polyline points="107.30,619.20 130.30,619.20 133.30,647.30 144.30,649.50 147.30,623.60 197.70,619.90" stroke="#d7301f"/>
</g>
<g fill="none" stroke-width="3.4" stroke-linejoin="round" stroke-linecap="butt">
<polyline points="207.70,619.20 240.50,619.20 243.40,647.20 256.00,649.50 259.00,623.20 298.10,619.90" stroke="#fdbb84"/>
<polyline points="207.70,619.20 236.50,619.20 239.40,647.20 252.00,649.50 255.00,623.20 298.10,619.90" stroke="#fc8d59"/>
<polyline points="207.70,619.20 233.10,619.20 236.00,647.20 248.60,649.50 251.60,623.20 298.10,619.90" stroke="#ef6548"/>
<polyline points="207.70,619.20 230.10,619.20 233.00,647.20 245.60,649.50 248.60,623.20 298.10,619.90" stroke="#d7301f"/>
</g>
<g fill="none" stroke-width="3.4" stroke-linejoin="round" stroke-linecap="butt">
<polyline points="309.40,619.20 342.20,619.20 345.80,647.80 356.40,649.60 359.90,623.00 399.80,619.90" stroke="#fdbb84"/>
<polyline points="309.40,619.20 338.20,619.20 341.80,647.80 352.40,649.60 355.90,623.00 399.80,619.90" stroke="#fc8d59"/>
<polyline points="309.40,619.20 334.80,619.20 338.40,647.80 349.00,649.60 352.50,623.00 399.80,619.90" stroke="#ef6548"/>
<polyline points="309.40,619.20 331.80,619.20 335.40,647.80 346.00,649.60 349.50,623.00 399.80,619.90" stroke="#d7301f"/>
</g>
<g fill="none" stroke-width="3.4" stroke-linejoin="round" stroke-linecap="butt">
<polyline points="409.90,619.20 445.30,619.20 448.80,647.80 457.70,649.60 459.10,586.80 464.40,585.00 468.80,620.70 500.30,619.80" stroke="#fdbb84"/>
<polyline points="409.90,619.20 441.30,619.20 444.80,647.80 453.70,649.60 459.10,586.80 464.40,585.00 468.80,620.70 500.30,619.80" stroke="#fc8d59"/>
<polyline points="409.90,619.20 437.90,619.20 441.40,647.80 450.30,649.60 459.10,586.80 464.40,585.00 468.80,620.70 500.30,619.80" stroke="#ef6548"/>
</g>
<g fill="none" stroke-width="3.4" stroke-linejoin="round" stroke-linecap="butt">
<polyline points="510.50,619.20 554.60,619.20 559.00,646.00 569.60,648.60 574.00,600.00 582.90,595.60 587.30,617.90 600.90,617.90" stroke="#fdbb84"/>
</g>
<path d="M107.6,654.3 L107.6,660.2 L196.9,660.2 L196.9,654.3" stroke="#231f20" stroke-width="1.5" fill="none" stroke-linejoin="miter"/>
<line x1="152.30" y1="654.30" x2="152.30" y2="660.20" stroke="#231f20" stroke-width="1.5"/>
<text x="95.76" y="685.30" font-size="28.00" fill="#231f20" stroke="#231f20" stroke-width="0.35">-1</text>
<text x="144.51" y="685.30" font-size="28.00" fill="#231f20" stroke="#231f20" stroke-width="0.35">0</text>
<text x="191.09" y="685.30" font-size="28.00" fill="#231f20" stroke="#231f20" stroke-width="0.35">1</text>
<text x="206.56" y="685.30" font-size="28.00" letter-spacing="-1.067" fill="#231f20" stroke="#231f20" stroke-width="0.35">(ms)</text>
<text x="483.19" y="654.00" font-size="27.50" fill="#231f20" stroke="#231f20" stroke-width="0.35">600</text>
<text x="482.99" y="682.70" font-size="27.50" letter-spacing="-1.314" fill="#231f20" stroke="#231f20" stroke-width="0.35">(uV)</text>
<path d="M541.4,635.4 L538.7,635.4 L538.7,685.2 L541.4,685.2" stroke="#231f20" stroke-width="1.3" fill="none"/>
<text x="631.25" y="238.30" font-size="50.00" font-weight="bold" fill="#231f20">C</text>
<path d="M748.6,247.00 L743.1,247.00 L743.1,401.70 L918.2,401.70" stroke="#231f20" stroke-width="1.8" fill="none" stroke-linejoin="miter"/>
<line x1="830.20" y1="401.70" x2="830.20" y2="397.10" stroke="#231f20" stroke-width="1.4"/>
<line x1="917.60" y1="401.70" x2="917.60" y2="395.90" stroke="#231f20" stroke-width="1.4"/>
<text x="689.38" y="254.90" font-size="28.00" letter-spacing="0.499" fill="#231f20" stroke="#231f20" stroke-width="0.35">600</text>
<text x="721.52" y="348.00" font-size="28.00" fill="#231f20" stroke="#231f20" stroke-width="0.35">0</text>
<text x="681.05" y="409.60" font-size="28.00" fill="#231f20" stroke="#231f20" stroke-width="0.35">-400</text>
<text x="729.07" y="426.40" font-size="28.00" fill="#231f20" stroke="#231f20" stroke-width="0.35">-1</text>
<text x="822.01" y="426.40" font-size="28.00" fill="#231f20" stroke="#231f20" stroke-width="0.35">0</text>
<text x="904.59" y="426.40" font-size="28.00" fill="#231f20" stroke="#231f20" stroke-width="0.35">1</text>
<text x="776.57" y="450.00" font-size="28.00" letter-spacing="-0.613" fill="#231f20" stroke="#231f20" stroke-width="0.35">Time (ms)</text>
<path d="M748.6,478.00 L743.1,478.00 L743.1,632.70 L918.2,632.70" stroke="#231f20" stroke-width="1.8" fill="none" stroke-linejoin="miter"/>
<line x1="830.20" y1="632.70" x2="830.20" y2="628.10" stroke="#231f20" stroke-width="1.4"/>
<line x1="917.60" y1="632.70" x2="917.60" y2="626.90" stroke="#231f20" stroke-width="1.4"/>
<text x="689.38" y="485.90" font-size="28.00" letter-spacing="0.499" fill="#231f20" stroke="#231f20" stroke-width="0.35">600</text>
<text x="721.52" y="579.00" font-size="28.00" fill="#231f20" stroke="#231f20" stroke-width="0.35">0</text>
<text x="681.05" y="640.60" font-size="28.00" fill="#231f20" stroke="#231f20" stroke-width="0.35">-400</text>
<text x="729.07" y="660.70" font-size="28.00" fill="#231f20" stroke="#231f20" stroke-width="0.35">-1</text>
<text x="822.01" y="660.70" font-size="28.00" fill="#231f20" stroke="#231f20" stroke-width="0.35">0</text>
<text x="904.59" y="660.70" font-size="28.00" fill="#231f20" stroke="#231f20" stroke-width="0.35">1</text>
<text x="776.57" y="689.30" font-size="28.00" letter-spacing="-0.613" fill="#231f20" stroke="#231f20" stroke-width="0.35">Time (ms)</text>
<g transform="translate(676.2,382.8) rotate(-90)">
<text x="-0.05" y="0.00" font-size="28.00" letter-spacing="0.199" fill="#231f20" stroke="#231f20" stroke-width="0.35">Amplitude</text>
</g>
<g transform="translate(703.6,338.3) rotate(-90)">
<text x="-1.74" y="0.00" font-size="28.00" letter-spacing="-1.928" fill="#231f20" stroke="#231f20" stroke-width="0.35">(µV)</text>
</g>
<text x="919.05" y="253.70" font-size="27.50" letter-spacing="-0.163" fill="#231f20" stroke="#231f20" stroke-width="0.35">dp (µs)</text>
<line x1="921.90" y1="273.50" x2="934.40" y2="273.50" stroke="#fdbb84" stroke-width="3.6"/>
<text x="941.93" y="281.30" font-size="27.50" fill="#231f20" stroke="#231f20" stroke-width="0.35">0</text>
<line x1="921.90" y1="298.25" x2="934.40" y2="298.25" stroke="#fc8d59" stroke-width="3.6"/>
<text x="941.60" y="306.05" font-size="27.50" fill="#231f20" stroke="#231f20" stroke-width="0.35">66</text>
<line x1="921.90" y1="323.00" x2="934.40" y2="323.00" stroke="#ef6548" stroke-width="3.6"/>
<text x="940.91" y="330.80" font-size="27.50" fill="#231f20" stroke="#231f20" stroke-width="0.35">100</text>
<line x1="921.90" y1="347.75" x2="934.40" y2="347.75" stroke="#d7301f" stroke-width="3.6"/>
<text x="941.62" y="355.55" font-size="27.50" fill="#231f20" stroke="#231f20" stroke-width="0.35">200</text>
<line x1="921.90" y1="372.50" x2="934.40" y2="372.50" stroke="#a01a1f" stroke-width="3.6"/>
<text x="941.95" y="380.30" font-size="27.50" fill="#231f20" stroke="#231f20" stroke-width="0.35">300</text>
<g fill="none" stroke-width="3.3" stroke-linejoin="round" stroke-linecap="round">
<polyline points="742.06,339.80 830.20,339.80 838.20,316.43 846.78,339.80 918.34,339.80" stroke="#fdbb84"/>
<polyline points="742.06,339.80 831.76,339.80 838.98,353.45 839.95,321.66 848.53,334.19 857.11,339.80 918.34,339.80" stroke="#fdbb84"/>
<polyline points="742.06,339.80 831.18,339.80 839.17,327.27 847.75,337.93 856.33,339.80 918.34,339.80" stroke="#fdbb84"/>
<polyline points="742.06,339.80 831.18,339.80 838.78,331.38 847.56,331.95 856.33,335.12 865.11,338.87 918.34,339.80" stroke="#fdbb84"/>
<polyline points="742.06,339.80 829.23,339.80 834.69,334.19 843.46,333.44 852.04,333.44 860.62,335.12 869.40,338.87 918.34,339.80" stroke="#fdbb84"/>
<polyline points="742.06,339.80 822.01,339.80 829.81,378.51 838.78,318.30 848.73,339.80 918.34,339.80" stroke="#fdbb84"/>
<polyline points="742.06,339.80 831.76,339.80 838.98,377.76 839.95,325.21 848.53,330.45 857.11,339.80 918.34,339.80" stroke="#fdbb84"/>
<polyline points="742.06,339.80 831.18,339.80 839.17,377.20 847.75,342.23 848.92,320.35 857.50,339.80 918.34,339.80" stroke="#fdbb84"/>
<polyline points="742.06,339.80 831.18,339.80 839.17,377.20 846.00,325.03 851.26,325.59 863.16,339.80 918.34,339.80" stroke="#fdbb84"/>
<polyline points="742.06,339.80 830.20,339.80 835.27,332.32 843.85,330.45 852.43,330.45 861.01,332.32 869.59,338.87 918.34,339.80" stroke="#fdbb84"/>
<polyline points="742.06,339.80 821.23,339.80 830.79,390.66 838.00,342.23 918.34,339.80" stroke="#fdbb84"/>
<polyline points="742.06,339.80 820.84,339.80 829.03,339.80 839.95,292.49 849.12,339.80 918.34,339.80" stroke="#fdbb84"/>
<polyline points="742.06,339.80 828.84,339.80 838.59,340.74 848.14,296.42 857.50,339.80 918.34,339.80" stroke="#fdbb84"/>
<polyline points="742.06,339.80 828.25,339.80 837.22,328.58 846.00,317.55 856.33,317.55 866.67,339.80 918.34,339.80" stroke="#fdbb84"/>
<polyline points="742.06,339.80 828.25,339.80 838.39,390.29 849.12,324.28 864.72,324.28 874.86,339.80 918.34,339.80" stroke="#fdbb84"/>
<polyline points="742.06,339.80 812.07,339.80 819.28,389.92 830.79,389.92 838.00,345.60 918.34,340.36" stroke="#fdbb84"/>
<polyline points="742.06,339.80 810.70,339.80 817.92,391.23 830.98,391.23 838.20,345.41 918.34,340.36" stroke="#fdbb84"/>
<polyline points="742.06,339.80 812.26,339.80 819.28,391.41 827.08,343.54 839.17,256.77 849.50,336.81 918.34,337.93" stroke="#fdbb84"/>
<polyline points="742.06,339.80 827.67,339.80 838.00,391.23 850.09,391.23 853.99,302.40 862.57,299.60 871.15,337.93 918.34,337.93" stroke="#fdbb84"/>
<polyline points="742.06,339.80 828.06,339.80 838.39,391.23 848.73,391.23 853.41,315.49 868.81,312.31 879.15,340.74 918.34,340.74" stroke="#fdbb84"/>
<polyline points="742.06,339.80 807.19,339.80 813.04,392.35 834.49,396.46 840.34,348.03 918.34,341.11" stroke="#fdbb84"/>
<polyline points="742.06,339.80 806.02,339.80 811.68,392.16 836.25,396.46 842.10,347.28 918.34,341.11" stroke="#fdbb84"/>
<polyline points="742.06,339.80 806.02,339.80 813.04,393.28 833.71,396.65 840.54,346.91 918.34,341.11" stroke="#fdbb84"/>
<polyline points="742.06,339.80 811.09,339.80 817.92,393.28 835.27,396.65 838.00,279.21 848.34,275.85 856.92,342.61 918.34,340.92" stroke="#fdbb84"/>
<polyline points="742.06,339.80 828.06,339.80 836.63,389.92 857.31,394.78 865.88,303.90 883.24,295.67 891.82,337.37 918.34,337.37" stroke="#fdbb84"/>
<polyline points="742.06,339.80 830.20,339.80 838.78,353.82 846.00,316.43 854.58,339.80 918.34,339.80" stroke="#fc8d59"/>
<polyline points="742.06,339.80 831.76,339.80 838.98,353.45 847.75,321.66 856.33,334.19 864.91,339.80 918.34,339.80" stroke="#fc8d59"/>
<polyline points="742.06,339.80 831.18,339.80 839.17,354.39 846.97,327.27 855.55,337.93 864.13,339.80 918.34,339.80" stroke="#fc8d59"/>
<polyline points="742.06,339.80 831.18,339.80 837.81,334.19 846.58,331.38 855.36,331.95 864.13,335.12 872.91,338.87 918.34,339.80" stroke="#fc8d59"/>
<polyline points="742.06,339.80 829.23,339.80 837.81,354.76 842.49,334.19 851.26,333.44 859.84,333.44 868.42,335.12 877.20,338.87 918.34,339.80" stroke="#fc8d59"/>
<polyline points="742.06,339.80 814.21,339.80 822.01,378.51 830.20,341.67 838.78,318.30 848.73,339.80 918.34,339.80" stroke="#fc8d59"/>
<polyline points="742.06,339.80 831.76,339.80 838.98,377.76 848.34,307.26 855.55,328.58 863.35,334.19 875.05,339.80 918.34,339.80" stroke="#fc8d59"/>
<polyline points="742.06,339.80 831.18,339.80 839.17,377.20 847.75,342.23 856.72,320.35 865.30,339.80 918.34,339.80" stroke="#fc8d59"/>
<polyline points="742.06,339.80 831.18,339.80 839.17,377.20 848.34,342.61 853.80,325.03 859.06,325.59 870.96,339.80 918.34,339.80" stroke="#fc8d59"/>
<polyline points="742.06,339.80 830.20,339.80 838.39,377.20 843.07,332.32 851.65,330.45 860.23,330.45 868.81,332.32 877.39,338.87 918.34,339.80" stroke="#fc8d59"/>
<polyline points="742.06,339.80 813.43,339.80 822.99,390.66 830.20,342.23 918.34,339.80" stroke="#fc8d59"/>
<polyline points="742.06,339.80 813.04,339.80 823.18,390.29 829.03,339.80 839.95,292.49 849.12,339.80 918.34,339.80" stroke="#fc8d59"/>
<polyline points="742.06,339.80 828.84,339.80 839.95,390.29 846.38,340.74 855.94,296.42 865.30,339.80 918.34,339.80" stroke="#fc8d59"/>
<polyline points="742.06,339.80 828.25,339.80 839.17,390.29 845.02,328.58 853.80,317.55 864.13,317.55 874.47,339.80 918.34,339.80" stroke="#fc8d59"/>
<polyline points="742.06,339.80 828.25,339.80 838.39,390.29 848.73,343.54 856.92,324.28 872.52,324.28 882.66,339.80 918.34,339.80" stroke="#fc8d59"/>
<polyline points="742.06,339.80 804.27,339.80 811.48,389.92 822.99,389.92 830.20,345.60 918.34,340.36" stroke="#fc8d59"/>
<polyline points="742.06,339.80 802.90,339.80 810.12,391.23 823.18,391.23 830.40,345.41 918.34,340.36" stroke="#fc8d59"/>
<polyline points="742.06,339.80 804.46,339.80 811.48,391.41 823.38,391.41 827.08,343.54 839.17,256.77 849.50,336.81 918.34,337.93" stroke="#fc8d59"/>
<polyline points="742.06,339.80 827.67,339.80 838.00,391.23 850.09,391.23 856.92,347.28 861.79,302.40 870.37,299.60 878.95,337.93 918.34,337.93" stroke="#fc8d59"/>
<polyline points="742.06,339.80 828.06,339.80 838.39,391.23 848.73,391.23 861.21,315.49 876.61,312.31 886.95,340.74 918.34,340.74" stroke="#fc8d59"/>
<polyline points="742.06,339.80 799.39,339.80 805.24,392.35 826.69,396.46 832.54,348.03 918.34,341.11" stroke="#fc8d59"/>
<polyline points="742.06,339.80 798.22,339.80 803.88,392.16 828.45,396.46 834.30,347.28 918.34,341.11" stroke="#fc8d59"/>
<polyline points="742.06,339.80 798.22,339.80 805.24,393.28 825.91,396.65 832.74,346.91 918.34,341.11" stroke="#fc8d59"/>
<polyline points="742.06,339.80 803.29,339.80 810.12,393.28 827.47,396.65 838.00,279.21 848.34,275.85 856.92,342.61 918.34,340.92" stroke="#fc8d59"/>
<polyline points="742.06,339.80 830.20,339.80 838.78,353.82 846.00,343.54 852.62,316.43 861.21,339.80 918.34,339.80" stroke="#ef6548"/>
<polyline points="742.06,339.80 831.76,339.80 838.98,353.45 847.75,342.98 854.38,321.66 862.96,334.19 871.54,339.80 918.34,339.80" stroke="#ef6548"/>
<polyline points="742.06,339.80 831.18,339.80 839.17,354.39 847.75,342.61 853.60,327.27 862.18,337.93 870.76,339.80 918.34,339.80" stroke="#ef6548"/>
<polyline points="742.06,339.80 831.18,339.80 839.17,354.76 844.44,334.19 853.21,331.38 861.99,331.95 870.76,335.12 879.54,338.87 918.34,339.80" stroke="#ef6548"/>
<polyline points="742.06,339.80 829.23,339.80 837.81,354.76 846.38,341.67 849.12,334.19 857.89,333.44 866.47,333.44 875.05,335.12 883.83,338.87 918.34,339.80" stroke="#ef6548"/>
<polyline points="742.06,339.80 807.58,339.80 815.38,378.51 823.57,341.67 838.78,318.30 848.73,339.80 918.34,339.80" stroke="#ef6548"/>
<polyline points="742.06,339.80 831.76,339.80 838.98,377.76 847.75,342.98 854.38,325.21 862.96,330.45 871.54,339.80 918.34,339.80" stroke="#ef6548"/>
<polyline points="742.06,339.80 831.18,339.80 839.17,377.20 847.75,342.23 863.35,320.35 871.93,339.80 918.34,339.80" stroke="#ef6548"/>
<polyline points="742.06,339.80 831.18,339.80 839.17,377.20 848.34,342.61 858.67,341.67 860.43,325.03 865.69,325.59 877.59,339.80 918.34,339.80" stroke="#ef6548"/>
<polyline points="742.06,339.80 830.20,339.80 838.39,377.20 846.97,341.67 849.70,332.32 858.28,330.45 866.86,330.45 875.44,332.32 884.02,338.87 918.34,339.80" stroke="#ef6548"/>
<polyline points="742.06,339.80 806.80,339.80 816.36,390.66 823.57,342.23 918.34,339.80" stroke="#ef6548"/>
<polyline points="742.06,339.80 806.41,339.80 816.55,390.29 825.13,342.61 829.03,339.80 839.95,292.49 849.12,339.80 918.34,339.80" stroke="#ef6548"/>
<polyline points="742.06,339.80 828.84,339.80 839.95,390.29 849.50,342.42 853.02,340.74 862.57,296.42 871.93,339.80 918.34,339.80" stroke="#ef6548"/>
<polyline points="742.06,339.80 828.25,339.80 839.17,390.29 848.34,342.42 851.65,328.58 860.43,317.55 870.76,317.55 881.10,339.80 918.34,339.80" stroke="#ef6548"/>
<polyline points="742.06,339.80 828.25,339.80 838.39,390.29 848.73,343.54 859.06,342.61 863.55,324.28 879.15,324.28 889.29,339.80 918.34,339.80" stroke="#ef6548"/>
<polyline points="742.06,339.80 797.63,339.80 804.85,389.92 816.36,389.92 823.57,345.60 918.34,340.36" stroke="#ef6548"/>
<polyline points="742.06,339.80 796.27,339.80 803.49,391.23 816.55,391.23 823.77,345.41 918.34,340.36" stroke="#ef6548"/>
<polyline points="742.06,339.80 797.83,339.80 804.85,391.41 816.75,391.41 823.77,346.72 827.08,343.54 839.17,256.77 849.50,336.81 918.34,337.93" stroke="#ef6548"/>
<polyline points="742.06,339.80 827.67,339.80 838.00,391.23 850.09,391.23 856.92,347.28 868.42,302.40 877.00,299.60 885.58,337.93 918.34,337.93" stroke="#ef6548"/>
<polyline points="742.06,339.80 828.06,339.80 838.39,391.23 848.73,391.23 867.84,315.49 883.24,312.31 893.58,340.74 918.34,340.74" stroke="#ef6548"/>
<polyline points="742.06,339.80 792.76,339.80 798.61,392.35 820.06,396.46 825.91,348.03 918.34,341.11" stroke="#ef6548"/>
<polyline points="742.06,339.80 791.59,339.80 797.25,392.16 821.82,396.46 827.67,347.28 918.34,341.11" stroke="#ef6548"/>
<polyline points="742.06,339.80 791.59,339.80 798.61,393.28 819.28,396.65 826.11,346.91 918.34,341.11" stroke="#ef6548"/>
<polyline points="742.06,339.80 796.66,339.80 803.49,393.28 820.84,396.65 838.00,279.21 848.34,275.85 856.92,342.61 918.34,340.92" stroke="#ef6548"/>
<polyline points="742.06,339.80 830.20,339.80 838.78,353.82 846.00,343.54 854.58,339.80 858.48,316.43 867.06,339.80 918.34,339.80" stroke="#d7301f"/>
<polyline points="742.06,339.80 831.76,339.80 838.98,353.45 847.75,342.98 857.70,342.04 860.23,321.66 868.81,334.19 877.39,339.80 918.34,339.80" stroke="#d7301f"/>
<polyline points="742.06,339.80 831.18,339.80 839.17,354.39 847.75,342.61 856.53,340.74 859.45,327.27 868.03,337.93 876.61,339.80 918.34,339.80" stroke="#d7301f"/>
<polyline points="742.06,339.80 831.18,339.80 839.17,354.76 847.75,342.61 850.29,334.19 859.06,331.38 867.84,331.95 876.61,335.12 885.38,338.87 918.34,339.80" stroke="#d7301f"/>
<polyline points="742.06,339.80 829.23,339.80 837.81,354.76 846.38,341.67 854.97,334.19 863.74,333.44 872.32,333.44 880.90,335.12 889.68,338.87 918.34,339.80" stroke="#d7301f"/>
<polyline points="742.06,339.80 801.73,339.80 809.53,378.51 817.72,341.67 834.88,340.74 838.78,318.30 848.73,339.80 918.34,339.80" stroke="#d7301f"/>
<polyline points="742.06,339.80 831.76,339.80 838.98,377.76 847.75,342.98 857.70,342.04 860.23,325.21 868.81,330.45 877.39,339.80 918.34,339.80" stroke="#d7301f"/>
<polyline points="742.06,339.80 831.18,339.80 839.17,377.20 847.75,342.23 866.47,340.74 869.20,320.35 877.78,339.80 918.34,339.80" stroke="#d7301f"/>
<polyline points="742.06,339.80 831.18,339.80 839.17,377.20 848.34,342.61 858.67,341.67 866.28,325.03 871.54,325.59 883.44,339.80 918.34,339.80" stroke="#d7301f"/>
<polyline points="742.06,339.80 830.20,339.80 838.39,377.20 846.97,341.67 855.55,332.32 864.13,330.45 872.71,330.45 881.29,332.32 889.87,338.87 918.34,339.80" stroke="#d7301f"/>
<polyline points="742.06,339.80 800.95,339.80 810.50,390.66 817.72,342.23 918.34,339.80" stroke="#d7301f"/>
<polyline points="742.06,339.80 800.56,339.80 810.70,390.29 819.28,342.61 829.03,339.80 839.95,292.49 849.12,339.80 918.34,339.80" stroke="#d7301f"/>
<polyline points="742.06,339.80 828.84,339.80 839.95,390.29 849.50,342.42 858.87,340.74 868.42,296.42 877.78,339.80 918.34,339.80" stroke="#d7301f"/>
<polyline points="742.06,339.80 828.25,339.80 839.17,390.29 848.34,342.42 857.50,328.58 866.28,317.55 876.61,317.55 886.95,339.80 918.34,339.80" stroke="#d7301f"/>
<polyline points="742.06,339.80 828.25,339.80 838.39,390.29 848.73,343.54 859.06,342.61 869.40,324.28 885.00,324.28 895.13,339.80 918.34,339.80" stroke="#d7301f"/>
<polyline points="742.06,339.80 791.79,339.80 799.00,389.92 810.50,389.92 817.72,345.60 918.34,340.36" stroke="#d7301f"/>
<polyline points="742.06,339.80 790.42,339.80 797.63,391.23 810.70,391.23 817.92,345.41 918.34,340.36" stroke="#d7301f"/>
<polyline points="742.06,339.80 791.98,339.80 799.00,391.41 810.90,391.41 817.92,346.72 827.08,343.54 839.17,256.77 849.50,336.81 918.34,337.93" stroke="#d7301f"/>
<polyline points="742.06,339.80 827.67,339.80 838.00,391.23 850.09,391.23 856.92,347.28 867.45,345.41 874.27,302.40 882.85,299.60 891.43,337.93 918.34,337.93" stroke="#d7301f"/>
<polyline points="742.06,339.80 786.91,339.80 792.76,392.35 814.21,396.46 820.06,348.03 918.34,341.11" stroke="#d7301f"/>
<polyline points="742.06,339.80 785.74,339.80 791.40,392.16 815.97,396.46 821.82,347.28 918.34,341.11" stroke="#d7301f"/>
<polyline points="742.06,339.80 785.74,339.80 792.76,393.28 813.43,396.65 820.25,346.91 918.34,341.11" stroke="#d7301f"/>
<polyline points="742.06,339.80 830.20,339.80 838.78,353.82 846.00,343.54 854.58,339.80 864.72,316.43 873.30,339.80 918.34,339.80" stroke="#a01a1f"/>
<polyline points="742.06,339.80 831.76,339.80 838.98,353.45 847.75,342.98 857.70,342.04 866.47,321.66 875.05,334.19 883.63,339.80 918.34,339.80" stroke="#a01a1f"/>
<polyline points="742.06,339.80 831.18,339.80 839.17,354.39 847.75,342.61 856.53,340.74 865.69,327.27 874.27,337.93 882.85,339.80 918.34,339.80" stroke="#a01a1f"/>
<polyline points="742.06,339.80 831.18,339.80 839.17,354.76 847.75,342.61 856.53,334.19 865.30,331.38 874.08,331.95 882.85,335.12 891.62,338.87 918.34,339.80" stroke="#a01a1f"/>
<polyline points="742.06,339.80 795.49,339.80 803.29,378.51 811.48,341.67 828.64,340.74 838.78,318.30 848.73,339.80 918.34,339.80" stroke="#a01a1f"/>
<polyline points="742.06,339.80 831.76,339.80 838.98,377.76 847.75,342.98 857.70,342.04 866.47,325.21 875.05,330.45 883.63,339.80 918.34,339.80" stroke="#a01a1f"/>
<polyline points="742.06,339.80 831.18,339.80 839.17,377.20 847.75,342.23 866.47,340.74 875.44,320.35 884.02,339.80 918.34,339.80" stroke="#a01a1f"/>
<polyline points="742.06,339.80 831.18,339.80 839.17,377.20 848.34,342.61 858.67,341.67 872.52,325.03 877.78,325.59 889.68,339.80 918.34,339.80" stroke="#a01a1f"/>
<polyline points="742.06,339.80 794.71,339.80 804.27,390.66 811.48,342.23 918.34,339.80" stroke="#a01a1f"/>
<polyline points="742.06,339.80 794.32,339.80 804.46,390.29 813.04,342.61 829.03,339.80 839.95,292.49 849.12,339.80 918.34,339.80" stroke="#a01a1f"/>
<polyline points="742.06,339.80 828.84,339.80 839.95,390.29 849.50,342.42 865.11,340.74 874.66,296.42 884.02,339.80 918.34,339.80" stroke="#a01a1f"/>
<polyline points="742.06,339.80 828.25,339.80 839.17,390.29 848.34,342.42 858.67,340.74 863.74,328.58 872.52,317.55 882.85,317.55 893.19,339.80 918.34,339.80" stroke="#a01a1f"/>
<polyline points="742.06,339.80 785.55,339.80 792.76,389.92 804.27,389.92 811.48,345.60 918.34,340.36" stroke="#a01a1f"/>
<polyline points="742.06,339.80 784.18,339.80 791.40,391.23 804.46,391.23 811.68,345.41 918.34,340.36" stroke="#a01a1f"/>
<polyline points="742.06,339.80 785.74,339.80 792.76,391.41 804.66,391.41 811.68,346.72 827.08,343.54 839.17,256.77 849.50,336.81 918.34,337.93" stroke="#a01a1f"/>
</g>
<line x1="743.5" y1="571.00" x2="917.5" y2="571.00" stroke="#f08a5d" stroke-width="4.6"/>
<line x1="743.5" y1="570.60" x2="917.5" y2="570.60" stroke="#a01a1f" stroke-width="3.6"/>
<text x="1017.76" y="238.10" font-size="50.00" font-weight="bold" fill="#231f20">D</text>
<polyline points="1044.2,295.00 1046.2,295.47 1048.2,295.13 1050.2,295.06 1052.2,295.01 1054.2,295.54 1056.2,295.56 1058.2,295.42 1060.2,295.15 1062.2,295.12 1064.2,295.16 1066.2,295.27 1068.2,295.06 1070.2,295.26 1072.2,295.13 1074.2,295.62 1076.2,295.63 1078.2,295.33 1080.2,295.12 1082.2,295.63 1084.2,295.17 1086.2,295.20 1088.2,294.95 1090.2,295.22 1092.2,295.28 1094.2,295.30 1096.2,295.09 1098.2,295.30 1100.2,294.95 1102.2,295.13 1104.2,295.01 1106.2,295.23 1108.2,294.98 1110.2,294.97 1112.2,295.16 1114.2,295.11 1116.2,295.36 1118.2,295.32 1120.2,295.48 1122.2,295.41 1124.2,295.45 1126.2,295.57 1128.2,295.22 1130.2,295.18 1132.2,295.64 1134.2,295.05 1136.2,295.46 1138.2,295.40 1140.2,294.98 1142.2,295.53 1144.2,295.57 1146.2,295.39 1148.2,295.46 1150.2,295.52 1152.2,295.05 1154.2,295.32 1156.2,295.30 1158.2,295.53 1160.2,295.51 1162.2,295.53 1164.2,295.36 1166.2,295.57 1168.2,295.43 1170.2,295.44 1172.2,295.11 1174.2,294.97 1176.2,295.04 1178.2,295.20 1180.2,295.02 1182.2,295.54 1184.2,295.34 1186.2,295.39 1188.2,295.39 1190.2,295.43 1192.2,295.29 1194.2,294.95 1196.2,295.51 1198.2,295.47 1200.2,295.30 1202.2,295.32 1204.2,295.41 1206.2,295.00 1208.2,295.47 1210.2,295.13 1212.2,295.00 1214.2,295.14 1216.2,295.46 1218.2,295.09 1220.2,295.47 1222.2,295.63 1224.2,295.30 1226.2,295.22 1228.2,295.29 1230.2,295.43 1232.2,295.49 1234.2,295.38 1236.2,295.40 1238.2,295.00 1240.2,295.05 1242.2,295.13 1244.2,295.47 1246.2,295.16 1248.2,295.35 1250.2,294.96 1252.2,294.99 1254.2,295.14 1256.2,295.42 1258.2,295.43 1260.2,295.42 1262.2,295.15 1264.2,295.31 1266.2,295.28 1268.2,295.28 1270.2,295.03 1272.2,295.58 1274.2,295.09 1276.2,295.63 1278.2,295.61 1280.2,294.96 1282.2,295.27 1284.2,295.52 1286.2,295.63 1288.2,295.26 1290.2,295.14 1292.2,295.10 1294.2,295.61 1296.2,295.10 1298.2,295.36 1300.2,295.05 1302.2,295.32 1304.2,295.62 1306.2,295.04 1308.2,295.52 1310.2,295.31 1312.2,295.57 1314.2,295.44 1316.2,295.11 1318.2,295.58 1320.2,295.29 1322.2,294.97 1324.2,294.95 1325.4,295.30" fill="none" stroke="#253494" stroke-width="2.4"/>
<path d="M1044.80,263.98V334.48 M1050.43,264.26V333.44 M1056.05,263.46V333.80 M1061.68,264.38V334.21 M1067.31,263.64V333.48 M1072.93,263.91V333.89 M1078.56,264.41V333.35 M1084.19,263.69V334.10 M1089.82,264.44V334.22 M1095.44,263.81V333.99 M1101.07,264.39V334.35 M1106.70,264.35V333.68 M1112.32,263.82V334.13 M1117.95,263.18V334.01 M1123.58,264.30V334.00 M1129.20,264.14V333.85 M1134.83,263.50V334.31 M1140.46,262.98V334.43 M1146.09,263.58V333.87 M1151.71,263.87V334.10 M1157.34,262.94V333.37 M1162.97,264.43V334.14 M1168.59,263.13V334.08 M1174.22,264.04V334.49 M1179.85,264.27V334.29 M1185.47,264.31V333.64 M1191.10,264.01V333.76 M1196.73,263.19V334.10 M1202.36,264.21V333.33 M1207.98,263.57V333.85 M1213.61,263.48V333.50 M1219.24,263.90V333.44 M1224.86,263.62V333.37 M1230.49,264.40V334.22 M1236.12,264.40V333.46 M1241.74,264.17V333.60 M1247.37,263.41V333.77 M1253.00,263.82V334.35 M1258.63,264.00V333.40 M1264.25,263.56V333.84 M1269.88,263.77V333.96 M1275.51,264.02V334.36 M1281.13,263.23V334.28 M1286.76,263.38V334.34 M1292.39,264.11V333.63 M1298.01,263.58V333.80 M1303.64,263.66V333.73 M1309.27,263.10V334.36 M1314.90,263.33V334.45 M1320.52,264.04V333.48" stroke="#253494" stroke-width="1.75" fill="none"/>
<polyline points="1044.2,364.69 1046.2,364.67 1048.2,364.56 1050.2,364.45 1052.2,364.59 1054.2,364.57 1056.2,364.94 1058.2,364.35 1060.2,364.88 1062.2,364.94 1064.2,364.43 1066.2,365.00 1068.2,364.85 1070.2,364.98 1072.2,364.55 1074.2,364.61 1076.2,364.63 1078.2,365.05 1080.2,364.76 1082.2,364.60 1084.2,364.65 1086.2,364.54 1088.2,364.38 1090.2,364.42 1092.2,364.93 1094.2,364.55 1096.2,365.00 1098.2,364.52 1100.2,364.54 1102.2,364.71 1104.2,364.48 1106.2,364.61 1108.2,365.02 1110.2,364.97 1112.2,364.92 1114.2,364.79 1116.2,364.99 1118.2,365.01 1120.2,364.73 1122.2,364.85 1124.2,364.38 1126.2,364.86 1128.2,364.67 1130.2,364.88 1132.2,364.80 1134.2,364.55 1136.2,364.38 1138.2,365.00 1140.2,364.44 1142.2,364.68 1144.2,364.59 1146.2,364.56 1148.2,364.87 1150.2,365.03 1152.2,364.53 1154.2,364.81 1156.2,364.56 1158.2,364.74 1160.2,364.63 1162.2,364.47 1164.2,364.46 1166.2,364.50 1168.2,364.98 1170.2,364.70 1172.2,364.50 1174.2,364.98 1176.2,365.05 1178.2,364.66 1180.2,364.45 1182.2,364.48 1184.2,364.41 1186.2,364.59 1188.2,364.41 1190.2,364.52 1192.2,364.53 1194.2,364.75 1196.2,364.97 1198.2,364.87 1200.2,364.64 1202.2,364.64 1204.2,364.72 1206.2,364.61 1208.2,364.59 1210.2,364.39 1212.2,364.54 1214.2,365.03 1216.2,364.44 1218.2,364.70 1220.2,364.79 1222.2,364.95 1224.2,364.50 1226.2,364.54 1228.2,364.52 1230.2,364.63 1232.2,364.66 1234.2,365.02 1236.2,364.94 1238.2,364.96 1240.2,364.37 1242.2,364.37 1244.2,364.85 1246.2,364.98 1248.2,364.68 1250.2,364.76 1252.2,364.35 1254.2,364.62 1256.2,365.00 1258.2,364.93 1260.2,364.95 1262.2,365.03 1264.2,364.52 1266.2,364.43 1268.2,364.46 1270.2,364.72 1272.2,364.83 1274.2,365.01 1276.2,364.86 1278.2,364.80 1280.2,364.89 1282.2,364.67 1284.2,364.74 1286.2,364.38 1288.2,364.90 1290.2,364.51 1292.2,364.99 1294.2,364.80 1296.2,364.56 1298.2,364.44 1300.2,364.53 1302.2,364.80 1304.2,364.84 1306.2,364.43 1308.2,364.40 1310.2,364.72 1312.2,364.76 1314.2,364.62 1316.2,364.51 1318.2,364.77 1320.2,364.36 1322.2,364.56 1324.2,364.67 1325.4,364.70" fill="none" stroke="#225ea8" stroke-width="2.4"/>
<path d="M1044.80,335.56V404.69 M1050.43,338.31V400.29 M1056.05,335.51V403.73 M1061.68,335.31V404.84 M1067.31,335.23V404.33 M1072.93,338.29V400.28 M1078.56,335.70V404.35 M1084.19,335.36V403.73 M1089.82,335.40V404.33 M1095.44,338.05V401.27 M1101.07,334.94V404.74 M1106.70,335.15V404.54 M1112.32,335.29V404.01 M1117.95,338.01V400.54 M1123.58,335.16V403.90 M1129.20,335.66V404.63 M1134.83,334.98V404.34 M1140.46,337.88V401.03 M1146.09,335.00V404.10 M1151.71,335.06V403.97 M1157.34,335.39V404.67 M1162.97,338.18V401.28 M1168.59,335.62V404.72 M1174.22,335.19V404.67 M1179.85,335.65V404.68 M1185.47,338.45V400.99 M1191.10,335.53V403.97 M1196.73,335.57V404.32 M1202.36,335.43V404.13 M1207.98,338.46V400.13 M1213.61,335.70V403.73 M1219.24,335.58V404.04 M1224.86,335.62V404.01 M1230.49,338.21V400.93 M1236.12,335.68V404.85 M1241.74,335.00V404.24 M1247.37,335.21V404.82 M1253.00,338.38V401.29 M1258.63,335.50V404.85 M1264.25,335.42V404.14 M1269.88,335.41V403.96 M1275.51,338.40V400.37 M1281.13,335.02V403.94 M1286.76,334.91V403.95 M1292.39,335.33V404.45 M1298.01,338.11V401.18 M1303.64,335.63V404.71 M1309.27,335.62V404.28 M1314.90,335.43V404.48 M1320.52,338.29V401.06" stroke="#225ea8" stroke-width="1.75" fill="none"/>
<polyline points="1044.2,435.62 1046.2,435.40 1048.2,435.57 1050.2,435.28 1052.2,435.11 1054.2,435.12 1056.2,435.62 1058.2,435.44 1060.2,435.17 1062.2,434.97 1064.2,435.30 1066.2,435.42 1068.2,435.24 1070.2,435.13 1072.2,435.42 1074.2,435.60 1076.2,435.11 1078.2,434.97 1080.2,435.19 1082.2,435.24 1084.2,435.43 1086.2,435.09 1088.2,435.51 1090.2,435.47 1092.2,435.30 1094.2,435.09 1096.2,435.63 1098.2,435.17 1100.2,435.52 1102.2,435.11 1104.2,435.11 1106.2,435.48 1108.2,435.16 1110.2,435.62 1112.2,435.30 1114.2,435.08 1116.2,435.11 1118.2,435.24 1120.2,435.42 1122.2,435.61 1124.2,435.05 1126.2,435.23 1128.2,435.10 1130.2,435.63 1132.2,435.05 1134.2,434.99 1136.2,434.99 1138.2,435.23 1140.2,435.58 1142.2,435.57 1144.2,435.46 1146.2,435.65 1148.2,435.60 1150.2,435.18 1152.2,435.08 1154.2,435.61 1156.2,435.47 1158.2,434.97 1160.2,435.42 1162.2,435.22 1164.2,435.21 1166.2,435.18 1168.2,435.07 1170.2,434.95 1172.2,435.15 1174.2,435.20 1176.2,435.62 1178.2,435.04 1180.2,435.62 1182.2,435.10 1184.2,435.20 1186.2,435.53 1188.2,435.53 1190.2,435.25 1192.2,434.98 1194.2,435.28 1196.2,435.21 1198.2,435.59 1200.2,435.09 1202.2,435.20 1204.2,435.58 1206.2,434.97 1208.2,435.24 1210.2,435.52 1212.2,435.49 1214.2,434.98 1216.2,434.97 1218.2,434.99 1220.2,435.59 1222.2,435.13 1224.2,435.47 1226.2,435.58 1228.2,435.19 1230.2,435.14 1232.2,435.62 1234.2,435.38 1236.2,435.13 1238.2,435.45 1240.2,435.17 1242.2,435.14 1244.2,434.95 1246.2,435.48 1248.2,435.59 1250.2,435.39 1252.2,435.61 1254.2,434.97 1256.2,435.11 1258.2,435.28 1260.2,435.62 1262.2,435.62 1264.2,435.22 1266.2,435.13 1268.2,435.25 1270.2,435.30 1272.2,435.60 1274.2,435.08 1276.2,435.51 1278.2,435.47 1280.2,435.53 1282.2,435.49 1284.2,435.38 1286.2,435.18 1288.2,435.17 1290.2,435.20 1292.2,435.50 1294.2,435.01 1296.2,435.09 1298.2,435.48 1300.2,435.12 1302.2,435.00 1304.2,434.97 1306.2,435.34 1308.2,435.18 1310.2,435.64 1312.2,435.57 1314.2,435.64 1316.2,435.14 1318.2,435.01 1320.2,435.02 1322.2,435.30 1324.2,435.45 1325.4,435.30" fill="none" stroke="#1d91c0" stroke-width="2.4"/>
<path d="M1044.80,404.80V473.20 M1050.43,404.20V473.80 M1056.05,406.00V473.20 M1061.68,410.90V467.10 M1067.31,418.20V457.30 M1072.93,409.70V467.10 M1078.56,404.80V473.20 M1084.19,404.20V473.80 M1089.82,406.00V473.20 M1095.44,410.90V467.10 M1101.07,418.20V457.30 M1106.70,409.70V467.10 M1112.32,404.80V473.20 M1117.95,404.20V473.80 M1123.58,406.00V473.20 M1129.20,410.90V467.10 M1134.83,418.20V457.30 M1140.46,409.70V467.10 M1146.09,404.80V473.20 M1151.71,404.20V473.80 M1157.34,406.00V473.20 M1162.97,410.90V467.10 M1168.59,418.20V457.30 M1174.22,409.70V467.10 M1179.85,404.80V473.20 M1185.47,404.20V473.80 M1191.10,406.00V473.20 M1196.73,410.90V467.10 M1202.36,418.20V457.30 M1207.98,409.70V467.10 M1213.61,404.80V473.20 M1219.24,404.20V473.80 M1224.86,406.00V473.20 M1230.49,410.90V467.10 M1236.12,418.20V457.30 M1241.74,409.70V467.10 M1247.37,404.80V473.20 M1253.00,404.20V473.80 M1258.63,406.00V473.20 M1264.25,410.90V467.10 M1269.88,418.20V457.30 M1275.51,409.70V467.10 M1281.13,404.80V473.20 M1286.76,404.20V473.80 M1292.39,406.00V473.20 M1298.01,410.90V467.10 M1303.64,418.20V457.30 M1309.27,409.70V467.10 M1314.90,404.80V473.20 M1320.52,404.20V473.80" stroke="#1d91c0" stroke-width="1.75" fill="none"/>
<polyline points="1044.2,504.86 1046.2,504.71 1048.2,504.84 1050.2,504.98 1052.2,505.02 1054.2,505.07 1056.2,505.14 1058.2,505.02 1060.2,504.63 1062.2,505.14 1064.2,504.76 1066.2,504.95 1068.2,504.81 1070.2,505.07 1072.2,504.69 1074.2,504.72 1076.2,504.72 1078.2,504.66 1080.2,505.17 1082.2,504.95 1084.2,504.78 1086.2,504.83 1088.2,505.24 1090.2,504.91 1092.2,504.71 1094.2,505.12 1096.2,505.01 1098.2,505.24 1100.2,504.62 1102.2,504.88 1104.2,505.12 1106.2,505.14 1108.2,505.19 1110.2,504.58 1112.2,504.76 1114.2,504.63 1116.2,504.68 1118.2,505.23 1120.2,504.96 1122.2,505.20 1124.2,504.81 1126.2,505.16 1128.2,504.86 1130.2,504.73 1132.2,505.09 1134.2,505.21 1136.2,504.62 1138.2,504.97 1140.2,504.98 1142.2,504.70 1144.2,504.81 1146.2,504.65 1148.2,504.69 1150.2,504.73 1152.2,504.97 1154.2,505.01 1156.2,504.69 1158.2,504.56 1160.2,504.78 1162.2,505.02 1164.2,504.68 1166.2,504.77 1168.2,504.69 1170.2,505.11 1172.2,504.93 1174.2,504.59 1176.2,504.62 1178.2,504.83 1180.2,504.94 1182.2,505.00 1184.2,504.61 1186.2,504.66 1188.2,505.04 1190.2,504.84 1192.2,504.75 1194.2,504.77 1196.2,505.22 1198.2,504.77 1200.2,504.95 1202.2,504.80 1204.2,504.84 1206.2,505.15 1208.2,505.25 1210.2,504.80 1212.2,504.69 1214.2,505.06 1216.2,504.69 1218.2,504.55 1220.2,505.18 1222.2,504.85 1224.2,505.12 1226.2,504.83 1228.2,505.17 1230.2,504.87 1232.2,504.66 1234.2,504.56 1236.2,504.94 1238.2,505.00 1240.2,505.19 1242.2,504.61 1244.2,504.99 1246.2,504.81 1248.2,504.90 1250.2,504.65 1252.2,504.75 1254.2,504.91 1256.2,505.20 1258.2,504.63 1260.2,504.89 1262.2,505.11 1264.2,505.23 1266.2,504.69 1268.2,504.64 1270.2,505.21 1272.2,505.23 1274.2,504.89 1276.2,504.59 1278.2,505.20 1280.2,504.82 1282.2,505.18 1284.2,504.98 1286.2,505.13 1288.2,504.66 1290.2,505.10 1292.2,504.71 1294.2,504.83 1296.2,505.14 1298.2,505.13 1300.2,504.68 1302.2,504.70 1304.2,504.83 1306.2,504.91 1308.2,504.82 1310.2,504.64 1312.2,504.72 1314.2,505.06 1316.2,505.18 1318.2,504.58 1320.2,504.94 1322.2,505.08 1324.2,504.58 1325.4,504.90" fill="none" stroke="#41b6c4" stroke-width="2.4"/>
<path d="M1044.80,499.97V511.28 M1050.43,502.87V507.30 M1056.05,497.45V514.74 M1061.68,492.00V522.20 M1067.31,487.22V528.74 M1072.93,483.59V533.71 M1078.56,481.43V536.67 M1084.19,480.94V537.35 M1089.82,482.16V535.68 M1095.44,484.98V531.82 M1101.07,489.15V526.11 M1106.70,494.27V519.08 M1112.32,499.82V511.48 M1117.95,503.01V507.12 M1123.58,497.59V514.54 M1129.20,492.14V522.01 M1134.83,487.34V528.58 M1140.46,483.67V533.61 M1146.09,481.47V536.62 M1151.71,480.93V537.36 M1157.34,482.10V535.75 M1162.97,484.88V531.94 M1168.59,489.02V526.28 M1174.22,494.13V519.28 M1179.85,499.68V511.68 M1185.47,503.13V506.95 M1191.10,497.74V514.33 M1196.73,492.27V521.82 M1202.36,487.45V528.43 M1207.98,483.75V533.50 M1213.61,481.51V536.57 M1219.24,480.92V537.37 M1224.86,482.05V535.82 M1230.49,484.79V532.07 M1236.12,488.90V526.45 M1241.74,493.99V519.48 M1247.37,499.53V511.88 M1253.00,503.26V506.77 M1258.63,497.89V514.13 M1264.25,492.41V521.63 M1269.88,487.57V528.27 M1275.51,483.83V533.39 M1281.13,481.54V536.52 M1286.76,480.92V537.38 M1292.39,482.00V535.89 M1298.01,484.70V532.20 M1303.64,488.77V526.62 M1309.27,493.84V519.67 M1314.90,499.38V512.09 M1320.52,503.39V506.60" stroke="#41b6c4" stroke-width="1.75" fill="none"/>
<polyline points="1044.2,559.44 1046.2,558.93 1048.2,559.27 1050.2,559.24 1052.2,559.29 1054.2,559.06 1056.2,559.14 1058.2,559.26 1060.2,559.15 1062.2,559.31 1064.2,559.16 1066.2,559.16 1068.2,558.87 1070.2,559.28 1072.2,559.19 1074.2,559.01 1076.2,559.38 1078.2,559.40 1080.2,559.17 1082.2,558.98 1084.2,559.18 1086.2,558.92 1088.2,558.94 1090.2,559.15 1092.2,558.91 1094.2,559.16 1096.2,559.21 1098.2,558.88 1100.2,559.30 1102.2,558.91 1104.2,559.36 1106.2,559.39 1108.2,559.21 1110.2,558.89 1112.2,559.20 1114.2,559.11 1116.2,559.52 1118.2,558.95 1120.2,559.45 1122.2,559.55 1124.2,559.36 1126.2,559.42 1128.2,558.99 1130.2,559.54 1132.2,559.19 1134.2,559.52 1136.2,559.49 1138.2,558.97 1140.2,559.40 1142.2,559.50 1144.2,558.90 1146.2,559.10 1148.2,559.38 1150.2,558.96 1152.2,559.48 1154.2,559.04 1156.2,559.42 1158.2,558.95 1160.2,559.20 1162.2,559.49 1164.2,559.00 1166.2,559.03 1168.2,559.20 1170.2,559.07 1172.2,558.88 1174.2,558.98 1176.2,558.96 1178.2,559.51 1180.2,559.33 1182.2,559.48 1184.2,558.97 1186.2,559.40 1188.2,558.93 1190.2,559.22 1192.2,559.30 1194.2,559.10 1196.2,559.46 1198.2,559.24 1200.2,559.26 1202.2,559.47 1204.2,558.92 1206.2,559.55 1208.2,559.29 1210.2,559.13 1212.2,559.41 1214.2,559.04 1216.2,559.54 1218.2,559.25 1220.2,559.10 1222.2,559.39 1224.2,559.16 1226.2,558.97 1228.2,559.37 1230.2,558.88 1232.2,559.42 1234.2,559.03 1236.2,559.30 1238.2,559.54 1240.2,559.26 1242.2,559.31 1244.2,559.07 1246.2,558.85 1248.2,558.87 1250.2,558.95 1252.2,559.28 1254.2,559.15 1256.2,559.21 1258.2,559.48 1260.2,558.94 1262.2,559.01 1264.2,559.31 1266.2,558.87 1268.2,558.85 1270.2,559.10 1272.2,558.92 1274.2,559.10 1276.2,559.01 1278.2,559.26 1280.2,559.26 1282.2,558.99 1284.2,559.29 1286.2,559.18 1288.2,558.94 1290.2,559.51 1292.2,559.02 1294.2,558.95 1296.2,558.92 1298.2,559.30 1300.2,559.46 1302.2,559.40 1304.2,559.13 1306.2,559.03 1308.2,558.86 1310.2,559.30 1312.2,559.24 1314.2,559.10 1316.2,559.30 1318.2,559.16 1320.2,559.51 1322.2,559.36 1324.2,559.02 1325.4,559.20" fill="none" stroke="#7fcdbb" stroke-width="2.4"/>
<path d="M1044.80,539.45V569.66 M1050.43,541.70V568.45 M1056.05,544.70V566.84 M1061.68,548.28V564.92 M1067.31,552.20V562.82 M1072.93,556.15V562.95 M1078.56,556.82V562.05 M1084.19,552.91V567.29 M1089.82,548.96V572.60 M1095.44,545.30V577.50 M1101.07,542.18V581.69 M1106.70,539.79V584.89 M1112.32,538.27V586.94 M1117.95,537.70V587.70 M1123.58,538.12V587.13 M1129.20,539.51V585.27 M1134.83,541.78V582.23 M1140.46,544.80V578.18 M1146.09,548.39V573.36 M1151.71,552.32V568.09 M1157.34,556.26V562.80 M1162.97,556.71V562.20 M1168.59,552.79V567.45 M1174.22,548.85V572.75 M1179.85,545.20V577.64 M1185.47,542.10V581.79 M1191.10,539.74V584.97 M1196.73,538.24V586.98 M1202.36,537.70V587.70 M1207.98,538.15V587.10 M1213.61,539.56V585.20 M1219.24,541.86V582.12 M1224.86,544.90V578.04 M1230.49,548.50V573.21 M1236.12,552.43V567.94 M1241.74,556.37V562.65 M1247.37,556.60V562.35 M1253.00,552.68V567.61 M1258.63,548.73V572.90 M1264.25,545.10V577.77 M1269.88,542.02V581.90 M1275.51,539.68V585.05 M1281.13,538.21V587.02 M1286.76,537.70V587.70 M1292.39,538.18V587.06 M1298.01,539.62V585.13 M1303.64,541.94V582.02 M1309.27,545.00V577.91 M1314.90,548.61V573.06 M1320.52,552.55V567.78" stroke="#7fcdbb" stroke-width="1.75" fill="none"/>
<polyline points="1044.2,609.58 1046.2,608.98 1048.2,609.32 1050.2,609.23 1052.2,609.12 1054.2,608.99 1056.2,609.50 1058.2,608.96 1060.2,609.34 1062.2,609.61 1064.2,609.05 1066.2,609.09 1068.2,609.38 1070.2,609.30 1072.2,609.40 1074.2,609.52 1076.2,609.07 1078.2,609.17 1080.2,609.16 1082.2,608.98 1084.2,609.57 1086.2,609.50 1088.2,609.45 1090.2,608.95 1092.2,609.54 1094.2,609.47 1096.2,609.28 1098.2,609.47 1100.2,609.27 1102.2,609.11 1104.2,609.02 1106.2,609.11 1108.2,608.98 1110.2,609.18 1112.2,609.47 1114.2,609.44 1116.2,609.54 1118.2,609.45 1120.2,609.14 1122.2,609.34 1124.2,609.26 1126.2,609.50 1128.2,609.32 1130.2,609.14 1132.2,609.40 1134.2,609.63 1136.2,609.10 1138.2,609.57 1140.2,608.96 1142.2,609.13 1144.2,609.12 1146.2,609.47 1148.2,609.61 1150.2,609.47 1152.2,609.18 1154.2,609.57 1156.2,609.18 1158.2,609.12 1160.2,609.59 1162.2,609.39 1164.2,609.43 1166.2,609.42 1168.2,609.64 1170.2,609.28 1172.2,609.54 1174.2,609.44 1176.2,609.55 1178.2,609.26 1180.2,609.46 1182.2,609.35 1184.2,609.17 1186.2,609.10 1188.2,609.39 1190.2,609.00 1192.2,609.59 1194.2,609.05 1196.2,608.97 1198.2,609.02 1200.2,609.60 1202.2,609.19 1204.2,609.05 1206.2,608.97 1208.2,608.98 1210.2,609.43 1212.2,609.39 1214.2,609.44 1216.2,609.47 1218.2,609.00 1220.2,609.36 1222.2,609.20 1224.2,609.52 1226.2,609.52 1228.2,609.57 1230.2,609.00 1232.2,609.56 1234.2,609.59 1236.2,609.61 1238.2,609.02 1240.2,609.09 1242.2,609.03 1244.2,608.97 1246.2,609.54 1248.2,609.52 1250.2,609.39 1252.2,609.53 1254.2,609.39 1256.2,609.15 1258.2,609.02 1260.2,609.02 1262.2,609.48 1264.2,609.09 1266.2,609.17 1268.2,609.25 1270.2,608.96 1272.2,609.13 1274.2,609.15 1276.2,609.45 1278.2,609.21 1280.2,609.17 1282.2,609.62 1284.2,609.30 1286.2,609.55 1288.2,609.38 1290.2,608.97 1292.2,609.24 1294.2,609.26 1296.2,609.49 1298.2,609.19 1300.2,609.44 1302.2,609.33 1304.2,609.10 1306.2,609.55 1308.2,609.01 1310.2,609.52 1312.2,609.07 1314.2,608.95 1316.2,609.09 1318.2,609.48 1320.2,609.63 1322.2,608.95 1324.2,609.29 1325.4,609.30" fill="none" stroke="#c7e9b4" stroke-width="2.4"/>
<path d="M1044.80,605.60V618.17 M1050.43,605.60V615.53 M1056.05,605.60V612.68 M1061.68,605.06V610.50 M1067.31,605.45V610.50 M1072.93,603.46V610.50 M1078.56,601.65V610.50 M1084.19,600.11V610.50 M1089.82,598.90V610.50 M1095.44,598.07V610.50 M1101.07,597.65V610.50 M1106.70,597.66V610.50 M1112.32,598.10V610.50 M1117.95,598.95V610.50 M1123.58,600.17V610.50 M1129.20,601.72V610.50 M1134.83,603.54V610.50 M1140.46,605.54V610.50 M1146.09,607.64V610.50 M1151.71,608.10V612.80 M1157.34,608.10V615.64 M1162.97,608.10V618.27 M1168.59,608.10V620.58 M1174.22,608.10V622.48 M1179.85,608.10V623.88 M1185.47,608.10V624.73 M1191.10,608.10V625.00 M1196.73,608.10V624.67 M1202.36,608.10V623.76 M1207.98,608.10V622.30 M1213.61,608.10V620.36 M1219.24,608.10V618.02 M1224.86,608.10V615.36 M1230.49,608.10V612.51 M1236.12,607.43V610.50 M1241.74,605.33V610.50 M1247.37,603.34V610.50 M1253.00,601.55V610.50 M1258.63,600.03V610.50 M1264.25,598.84V610.50 M1269.88,598.03V610.50 M1275.51,597.64V610.50 M1281.13,597.67V610.50 M1286.76,598.14V610.50 M1292.39,599.01V610.50 M1298.01,600.26V610.50 M1303.64,601.83V610.50 M1309.27,603.65V610.50 M1314.90,605.66V610.50 M1320.52,607.77V610.50" stroke="#c7e9b4" stroke-width="1.75" fill="none"/>
<path d="M1044.4,618.9 L1044.4,628.6 L1325.6,628.6 L1325.6,618.9" stroke="#231f20" stroke-width="1.8" fill="none" stroke-linejoin="miter"/>
<line x1="1100.90" y1="628.60" x2="1100.90" y2="618.90" stroke="#231f20" stroke-width="1.5"/>
<line x1="1156.90" y1="628.60" x2="1156.90" y2="618.90" stroke="#231f20" stroke-width="1.5"/>
<line x1="1213.20" y1="628.60" x2="1213.20" y2="618.90" stroke="#231f20" stroke-width="1.5"/>
<line x1="1269.20" y1="628.60" x2="1269.20" y2="618.90" stroke="#231f20" stroke-width="1.5"/>
<text x="1036.61" y="658.00" font-size="28.00" fill="#231f20" stroke="#231f20" stroke-width="0.35">0</text>
<text x="1090.77" y="658.00" font-size="28.00" fill="#231f20" stroke="#231f20" stroke-width="0.35">10</text>
<text x="1144.29" y="658.00" font-size="28.00" fill="#231f20" stroke="#231f20" stroke-width="0.35">20</text>
<text x="1200.63" y="658.00" font-size="28.00" fill="#231f20" stroke="#231f20" stroke-width="0.35">30</text>
<text x="1257.66" y="658.00" font-size="28.00" fill="#231f20" stroke="#231f20" stroke-width="0.35">40</text>
<text x="1314.68" y="658.00" font-size="28.00" fill="#231f20" stroke="#231f20" stroke-width="0.35">50</text>
<text x="1141.67" y="689.00" font-size="28.00" letter-spacing="-0.755" fill="#231f20" stroke="#231f20" stroke-width="0.35">Time (s)</text>
<text x="980.59" y="599.40" font-size="28.00" letter-spacing="0.293" fill="#231f20" stroke="#231f20" stroke-width="0.35">200</text>
<text x="980.46" y="622.90" font-size="28.00" letter-spacing="-1.761" fill="#231f20" stroke="#231f20" stroke-width="0.35">(µV)</text>
<path d="M1037.1,579.3 L1030.6,579.3 L1030.6,626.0 L1037.1,626.0" stroke="#231f20" stroke-width="1.4" fill="none"/>
<text x="1373.46" y="238.60" font-size="50.00" font-weight="bold" fill="#231f20">E</text>
<path d="M1515.00,368.00 L1536.20,344.00 L1557.00,368.00 Z" fill="#c7e9b4" fill-opacity="0.35" stroke="none"/>
<path d="M1513.00,356.00 L1528.00,340.00 L1536.20,318.00 L1546.00,340.00 L1560.00,356.00 Z" fill="#7fcdbb" fill-opacity="0.25" stroke="none"/>
<path d="M1517.00,344.00 L1530.00,325.00 L1536.20,306.00 L1545.00,325.00 L1556.00,344.00 Z" fill="#41b6c4" fill-opacity="0.25" stroke="none"/>
<path d="M1522.00,332.00 L1531.00,300.00 L1536.50,292.00 L1544.00,305.00 L1552.00,332.00 Z" fill="#1d91c0" fill-opacity="0.22" stroke="none"/>
<path d="M1526.00,319.00 L1529.50,285.00 L1532.20,246.00 L1533.50,240.50 L1535.00,252.00 L1536.60,262.00 L1537.80,216.00 L1538.50,211.50 L1539.30,218.00 L1540.30,265.00 L1541.60,281.00 L1543.30,277.50 L1545.00,280.00 L1547.80,296.00 L1550.00,319.00 Z" fill="#253494" fill-opacity="0.26" stroke="none"/>
<polyline points="1449.00,368.40 1518.40,367.00 1536.20,345.20 1553.80,366.60 1624.20,367.80" fill="none" stroke="#c7e9b4" stroke-width="2.2" stroke-linejoin="round"/>
<polyline points="1449.00,356.30 1515.00,354.80 1524.40,349.20 1536.20,325.70 1543.00,339.00 1551.30,352.50 1560.00,355.20 1624.20,356.00" fill="none" stroke="#7fcdbb" stroke-width="2.2" stroke-linejoin="round"/>
<polyline points="1452.40,344.30 1522.00,342.80 1530.60,329.00 1536.20,313.50 1541.60,328.50 1548.90,342.00 1624.20,344.20" fill="none" stroke="#41b6c4" stroke-width="2.2" stroke-linejoin="round"/>
<polyline points="1449.00,331.60 1529.40,328.20 1533.00,305.00 1535.50,308.60 1537.90,307.50 1540.40,312.30 1545.20,326.90 1550.00,330.40 1624.20,331.40" fill="none" stroke="#1d91c0" stroke-width="2.2" stroke-linejoin="round"/>
<polyline points="1450.30,319.40 1528.20,317.20 1533.00,295.20 1534.70,299.00 1536.50,292.50 1540.40,302.60 1544.00,312.50 1549.00,318.20 1624.20,319.40" fill="none" stroke="#225ea8" stroke-width="2.2" stroke-linejoin="round"/>
<polyline points="1450.30,307.20 1528.20,305.80 1533.00,282.60 1535.50,292.80 1537.90,253.30 1540.40,295.20 1542.80,296.50 1548.90,305.00 1624.20,307.00" fill="none" stroke="#253494" stroke-width="2.2" stroke-linejoin="round"/>
<path d="M1448.9,367.8 L1448.9,373.5 L1624.2,373.5 L1624.2,367.8" stroke="#231f20" stroke-width="1.8" fill="none" stroke-linejoin="miter"/>
<line x1="1536.50" y1="373.50" x2="1536.50" y2="367.80" stroke="#231f20" stroke-width="1.5"/>
<text x="1436.70" y="398.40" font-size="27.00" fill="#231f20" stroke="#231f20" stroke-width="0.35">-5</text>
<text x="1530.65" y="398.40" font-size="27.00" fill="#231f20" stroke="#231f20" stroke-width="0.35">0</text>
<text x="1615.82" y="398.40" font-size="27.00" fill="#231f20" stroke="#231f20" stroke-width="0.35">5</text>
<text x="1482.38" y="422.00" font-size="27.50" letter-spacing="-0.338" fill="#231f20" stroke="#231f20" stroke-width="0.35">Time (ms)</text>
<text x="1395.46" y="339.20" font-size="28.00" letter-spacing="0.692" fill="#231f20" stroke="#231f20" stroke-width="0.35">40</text>
<text x="1387.26" y="362.80" font-size="28.00" letter-spacing="-1.728" fill="#231f20" stroke="#231f20" stroke-width="0.35">(µV)</text>
<path d="M1442.8,319.6 L1437.1,319.6 L1437.1,368.3 L1442.8,368.3" stroke="#231f20" stroke-width="1.5" fill="none"/>
<text x="1374.56" y="459.70" font-size="50.00" font-weight="bold" fill="#231f20">F</text>
<path d="M1454.3,477.6 L1449.1,477.6 L1449.1,632.7 L1624.5,632.7" stroke="#231f20" stroke-width="2.0" fill="none" stroke-linejoin="miter"/>
<line x1="1449.10" y1="529.50" x2="1454.30" y2="529.50" stroke="#231f20" stroke-width="1.6"/>
<line x1="1449.10" y1="580.90" x2="1454.30" y2="580.90" stroke="#231f20" stroke-width="1.6"/>
<text x="1413.15" y="485.90" font-size="28.00" fill="#231f20" stroke="#231f20" stroke-width="0.35">30</text>
<text x="1413.15" y="538.40" font-size="28.00" fill="#231f20" stroke="#231f20" stroke-width="0.35">20</text>
<text x="1413.15" y="589.80" font-size="28.00" fill="#231f20" stroke="#231f20" stroke-width="0.35">10</text>
<text x="1428.72" y="641.00" font-size="28.00" fill="#231f20" stroke="#231f20" stroke-width="0.35">0</text>
<g transform="translate(1380.7,611.7) rotate(-90)">
<text x="-2.30" y="0.00" font-size="28.00" letter-spacing="0.145" fill="#231f20" stroke="#231f20" stroke-width="0.35">Fluctuation</text>
</g>
<g transform="translate(1408.5,570.6) rotate(-90)">
<text x="-1.86" y="0.00" font-size="28.00" letter-spacing="-0.208" fill="#231f20" stroke="#231f20" stroke-width="0.35">ratio</text>
</g>
<text x="1459.40" y="663.90" font-size="27.50" letter-spacing="0.208" fill="#231f20" stroke="#231f20" stroke-width="0.35">Clean</text>
<text x="1566.24" y="663.90" font-size="27.50" letter-spacing="-1.262" fill="#231f20" stroke="#231f20" stroke-width="0.35">Raw</text>
<rect x="1455.60" y="628.20" width="10.00" height="3.80" fill="#c7e9b4"/>
<line x1="1456.60" y1="628.00" x2="1464.60" y2="628.00" stroke="#231f20" stroke-width="1.4"/>
<rect x="1467.10" y="628.20" width="10.00" height="3.80" fill="#7fcdbb"/>
<line x1="1468.10" y1="628.00" x2="1476.10" y2="628.00" stroke="#231f20" stroke-width="1.4"/>
<rect x="1478.60" y="628.20" width="10.00" height="3.80" fill="#41b6c4"/>
<line x1="1479.60" y1="628.00" x2="1487.60" y2="628.00" stroke="#231f20" stroke-width="1.4"/>
<rect x="1490.10" y="628.20" width="10.00" height="3.80" fill="#1d91c0"/>
<line x1="1491.10" y1="628.00" x2="1499.10" y2="628.00" stroke="#231f20" stroke-width="1.4"/>
<rect x="1501.60" y="628.20" width="10.00" height="3.80" fill="#225ea8"/>
<line x1="1502.60" y1="628.00" x2="1510.60" y2="628.00" stroke="#231f20" stroke-width="1.4"/>
<rect x="1513.10" y="628.20" width="10.00" height="3.80" fill="#253494"/>
<line x1="1514.10" y1="628.00" x2="1522.10" y2="628.00" stroke="#231f20" stroke-width="1.4"/>
<rect x="1549.00" y="584.00" width="10.20" height="48.00" fill="#c7e9b4"/>
<rect x="1560.60" y="571.40" width="10.20" height="60.60" fill="#7fcdbb"/>
<rect x="1572.20" y="565.70" width="10.20" height="66.30" fill="#41b6c4"/>
<rect x="1583.80" y="555.90" width="10.20" height="76.10" fill="#1d91c0"/>
<rect x="1595.40" y="539.50" width="10.20" height="92.50" fill="#225ea8"/>
<rect x="1607.00" y="532.90" width="10.20" height="99.10" fill="#253494"/>
<line x1="1554.10" y1="541.80" x2="1554.10" y2="626.60" stroke="#414042" stroke-width="1.1"/>
<line x1="1549.90" y1="541.80" x2="1558.30" y2="541.80" stroke="#414042" stroke-width="1.1"/>
<line x1="1549.90" y1="626.60" x2="1558.30" y2="626.60" stroke="#414042" stroke-width="1.1"/>
<line x1="1565.70" y1="530.90" x2="1565.70" y2="611.60" stroke="#414042" stroke-width="1.1"/>
<line x1="1561.50" y1="530.90" x2="1569.90" y2="530.90" stroke="#414042" stroke-width="1.1"/>
<line x1="1561.50" y1="611.60" x2="1569.90" y2="611.60" stroke="#414042" stroke-width="1.1"/>
<line x1="1577.30" y1="524.00" x2="1577.30" y2="607.00" stroke="#414042" stroke-width="1.1"/>
<line x1="1573.10" y1="524.00" x2="1581.50" y2="524.00" stroke="#414042" stroke-width="1.1"/>
<line x1="1573.10" y1="607.00" x2="1581.50" y2="607.00" stroke="#414042" stroke-width="1.1"/>
<line x1="1588.90" y1="495.30" x2="1588.90" y2="617.40" stroke="#414042" stroke-width="1.1"/>
<line x1="1584.70" y1="495.30" x2="1593.10" y2="495.30" stroke="#414042" stroke-width="1.1"/>
<line x1="1584.70" y1="617.40" x2="1593.10" y2="617.40" stroke="#414042" stroke-width="1.1"/>
<line x1="1600.50" y1="480.60" x2="1600.50" y2="599.30" stroke="#414042" stroke-width="1.1"/>
<line x1="1596.30" y1="480.60" x2="1604.70" y2="480.60" stroke="#414042" stroke-width="1.1"/>
<line x1="1596.30" y1="599.30" x2="1604.70" y2="599.30" stroke="#414042" stroke-width="1.1"/>
<line x1="1612.10" y1="478.60" x2="1612.10" y2="587.20" stroke="#414042" stroke-width="1.1"/>
<line x1="1607.90" y1="478.60" x2="1616.30" y2="478.60" stroke="#414042" stroke-width="1.1"/>
<line x1="1607.90" y1="587.20" x2="1616.30" y2="587.20" stroke="#414042" stroke-width="1.1"/>
<text x="1630.93" y="435.20" font-size="28.00" letter-spacing="-0.144" fill="#231f20" stroke="#231f20" stroke-width="0.35">Sample</text>
<text x="1648.34" y="458.60" font-size="28.00" letter-spacing="1.118" fill="#231f20" stroke="#231f20" stroke-width="0.35">rate</text>
<text x="1644.86" y="480.10" font-size="28.00" letter-spacing="-0.124" fill="#231f20" stroke="#231f20" stroke-width="0.35">(kHz)</text>
<rect x="1658.90" y="505.40" width="16.00" height="6.60" fill="#c7e9b4"/>
<text x="1677.91" y="517.40" font-size="27.50" fill="#231f20" stroke="#231f20" stroke-width="0.35">1</text>
<rect x="1658.90" y="530.10" width="16.00" height="6.60" fill="#7fcdbb"/>
<text x="1677.62" y="541.80" font-size="27.50" fill="#231f20" stroke="#231f20" stroke-width="0.35">2</text>
<rect x="1658.90" y="552.10" width="16.00" height="6.60" fill="#41b6c4"/>
<text x="1677.62" y="566.80" font-size="27.50" fill="#231f20" stroke="#231f20" stroke-width="0.35">2.5</text>
<rect x="1658.90" y="579.00" width="16.00" height="6.60" fill="#1d91c0"/>
<text x="1677.90" y="590.60" font-size="27.50" fill="#231f20" stroke="#231f20" stroke-width="0.35">5</text>
<rect x="1658.90" y="603.60" width="16.00" height="6.60" fill="#225ea8"/>
<text x="1677.59" y="614.00" font-size="27.50" fill="#231f20" stroke="#231f20" stroke-width="0.35">7.5</text>
<rect x="1658.90" y="628.10" width="16.00" height="6.60" fill="#253494"/>
<text x="1677.91" y="638.90" font-size="27.50" fill="#231f20" stroke="#231f20" stroke-width="0.35">10</text>
</svg>
</body></html>
